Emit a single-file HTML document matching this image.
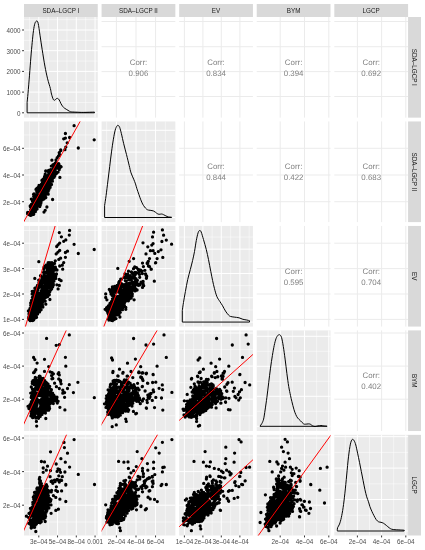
<!DOCTYPE html>
<html><head><meta charset="utf-8"><style>
html,body{margin:0;padding:0;background:#fff;}
svg{display:block;}
.cr{text-rendering:geometricPrecision;}
.st{font-family:"Liberation Sans",Arial,sans-serif;font-size:63px;fill:#1A1A1A;}
.ax{font-family:"Liberation Sans",Arial,sans-serif;font-size:63px;fill:#4D4D4D;}
.cr{font-family:"Liberation Sans",Arial,sans-serif;font-size:79px;fill:#808080;}
</style></head><body>
<svg width="425" height="550" viewBox="0 0 425 550">
<rect width="425" height="550" fill="#fff"/>
<rect x="24" y="4" width="73.76" height="13" fill="#D9D9D9"/>
<text transform="translate(60.88,12.80) scale(0.1)" class="st" text-anchor="middle">SDA–LGCP I</text>
<rect x="101.58" y="4" width="73.76" height="13" fill="#D9D9D9"/>
<text transform="translate(138.46,12.80) scale(0.1)" class="st" text-anchor="middle">SDA–LGCP II</text>
<rect x="179.16" y="4" width="73.76" height="13" fill="#D9D9D9"/>
<text transform="translate(216.04,12.80) scale(0.1)" class="st" text-anchor="middle">EV</text>
<rect x="256.74" y="4" width="73.76" height="13" fill="#D9D9D9"/>
<text transform="translate(293.62,12.80) scale(0.1)" class="st" text-anchor="middle">BYM</text>
<rect x="334.32" y="4" width="73.76" height="13" fill="#D9D9D9"/>
<text transform="translate(371.20,12.80) scale(0.1)" class="st" text-anchor="middle">LGCP</text>
<rect x="408.08" y="17" width="12.92" height="100.64" fill="#D9D9D9"/>
<text transform="translate(412.24,67.32) rotate(90) scale(0.1)" class="st" text-anchor="middle">SDA–LGCP I</text>
<rect x="408.08" y="121.46" width="12.92" height="100.64" fill="#D9D9D9"/>
<text transform="translate(412.24,171.79) rotate(90) scale(0.1)" class="st" text-anchor="middle">SDA–LGCP II</text>
<rect x="408.08" y="225.93" width="12.92" height="100.64" fill="#D9D9D9"/>
<text transform="translate(412.24,276.25) rotate(90) scale(0.1)" class="st" text-anchor="middle">EV</text>
<rect x="408.08" y="330.39" width="12.92" height="100.64" fill="#D9D9D9"/>
<text transform="translate(412.24,380.71) rotate(90) scale(0.1)" class="st" text-anchor="middle">BYM</text>
<rect x="408.08" y="434.86" width="12.92" height="100.64" fill="#D9D9D9"/>
<text transform="translate(412.24,485.18) rotate(90) scale(0.1)" class="st" text-anchor="middle">LGCP</text>
<g>
<rect x="24" y="17" width="73.76" height="100.64" fill="#EBEBEB"/>
<line x1="29.42" y1="17" x2="29.42" y2="117.64" stroke="#fff" stroke-width="0.49"/>
<line x1="48.17" y1="17" x2="48.17" y2="117.64" stroke="#fff" stroke-width="0.49"/>
<line x1="66.92" y1="17" x2="66.92" y2="117.64" stroke="#fff" stroke-width="0.49"/>
<line x1="85.67" y1="17" x2="85.67" y2="117.64" stroke="#fff" stroke-width="0.49"/>
<line x1="24" y1="19.65" x2="97.76" y2="19.65" stroke="#fff" stroke-width="0.49"/>
<line x1="24" y1="40.35" x2="97.76" y2="40.35" stroke="#fff" stroke-width="0.49"/>
<line x1="24" y1="61.05" x2="97.76" y2="61.05" stroke="#fff" stroke-width="0.49"/>
<line x1="24" y1="81.75" x2="97.76" y2="81.75" stroke="#fff" stroke-width="0.49"/>
<line x1="24" y1="102.45" x2="97.76" y2="102.45" stroke="#fff" stroke-width="0.49"/>
<line x1="38.8" y1="17" x2="38.8" y2="117.64" stroke="#fff" stroke-width="0.99"/>
<line x1="57.55" y1="17" x2="57.55" y2="117.64" stroke="#fff" stroke-width="0.99"/>
<line x1="76.3" y1="17" x2="76.3" y2="117.64" stroke="#fff" stroke-width="0.99"/>
<line x1="95.05" y1="17" x2="95.05" y2="117.64" stroke="#fff" stroke-width="0.99"/>
<line x1="24" y1="112.8" x2="97.76" y2="112.8" stroke="#fff" stroke-width="0.99"/>
<line x1="24" y1="92.1" x2="97.76" y2="92.1" stroke="#fff" stroke-width="0.99"/>
<line x1="24" y1="71.4" x2="97.76" y2="71.4" stroke="#fff" stroke-width="0.99"/>
<line x1="24" y1="50.7" x2="97.76" y2="50.7" stroke="#fff" stroke-width="0.99"/>
<line x1="24" y1="30" x2="97.76" y2="30" stroke="#fff" stroke-width="0.99"/>
<!--CONTENT_0_0-->
<path d="M27.10,112.80 L27.10,102.50 C27.25,100.98 27.60,97.95 28.00,93.40 C28.40,88.85 29.02,81.27 29.50,75.20 C29.98,69.13 30.45,62.45 30.90,57.00 C31.35,51.55 31.77,46.90 32.20,42.50 C32.63,38.10 33.05,33.78 33.50,30.60 C33.95,27.42 34.37,25.00 34.90,23.40 C35.43,21.80 36.15,21.00 36.70,21.00 C37.25,21.00 37.65,21.03 38.20,23.40 C38.75,25.77 39.33,30.82 40.00,35.20 C40.67,39.58 41.38,44.55 42.20,49.70 C43.02,54.85 44.00,61.25 44.90,66.10 C45.80,70.95 46.68,75.05 47.60,78.80 C48.52,82.55 49.75,86.05 50.40,88.60 C51.05,91.15 51.02,92.30 51.50,94.10 C51.98,95.90 52.75,98.38 53.30,99.40 C53.85,100.42 54.32,100.30 54.80,100.20 C55.28,100.10 55.73,99.10 56.20,98.80 C56.67,98.50 57.10,98.22 57.60,98.40 C58.10,98.58 58.65,99.05 59.20,99.90 C59.75,100.75 60.32,102.42 60.90,103.50 C61.48,104.58 62.10,105.62 62.70,106.40 C63.30,107.18 63.82,107.67 64.50,108.20 C65.18,108.73 66.02,109.12 66.80,109.60 C67.58,110.08 68.42,110.72 69.20,111.10 C69.98,111.48 70.13,111.72 71.50,111.90 C72.87,112.08 75.43,112.12 77.40,112.20 C79.37,112.28 80.45,112.42 83.30,112.40 C86.15,112.38 92.63,112.15 94.50,112.10 L94.50,112.80 Z" fill="none" stroke="#000" stroke-width="0.99" stroke-linejoin="round"/>
</g>
<g>
<line x1="116.4" y1="17" x2="116.4" y2="117.64" stroke="#EBEBEB" stroke-width="0.99"/>
<line x1="136" y1="17" x2="136" y2="117.64" stroke="#EBEBEB" stroke-width="0.99"/>
<line x1="155.55" y1="17" x2="155.55" y2="117.64" stroke="#EBEBEB" stroke-width="0.99"/>
<line x1="101.58" y1="21.5" x2="175.34" y2="21.5" stroke="#EBEBEB" stroke-width="0.99"/>
<line x1="101.58" y1="46.7" x2="175.34" y2="46.7" stroke="#EBEBEB" stroke-width="0.99"/>
<line x1="101.58" y1="71.6" x2="175.34" y2="71.6" stroke="#EBEBEB" stroke-width="0.99"/>
<line x1="101.58" y1="96.5" x2="175.34" y2="96.5" stroke="#EBEBEB" stroke-width="0.99"/>
<text transform="translate(138.46,64.72) scale(0.1)" class="cr" text-anchor="middle">Corr:</text>
<text transform="translate(138.46,75.92) scale(0.1)" class="cr" text-anchor="middle">0.906</text>
</g>
<g>
<line x1="184.4" y1="17" x2="184.4" y2="117.64" stroke="#EBEBEB" stroke-width="0.99"/>
<line x1="202.9" y1="17" x2="202.9" y2="117.64" stroke="#EBEBEB" stroke-width="0.99"/>
<line x1="221.3" y1="17" x2="221.3" y2="117.64" stroke="#EBEBEB" stroke-width="0.99"/>
<line x1="239.9" y1="17" x2="239.9" y2="117.64" stroke="#EBEBEB" stroke-width="0.99"/>
<line x1="179.16" y1="21.5" x2="252.92" y2="21.5" stroke="#EBEBEB" stroke-width="0.99"/>
<line x1="179.16" y1="46.7" x2="252.92" y2="46.7" stroke="#EBEBEB" stroke-width="0.99"/>
<line x1="179.16" y1="71.6" x2="252.92" y2="71.6" stroke="#EBEBEB" stroke-width="0.99"/>
<line x1="179.16" y1="96.5" x2="252.92" y2="96.5" stroke="#EBEBEB" stroke-width="0.99"/>
<text transform="translate(216.04,64.72) scale(0.1)" class="cr" text-anchor="middle">Corr:</text>
<text transform="translate(216.04,75.92) scale(0.1)" class="cr" text-anchor="middle">0.834</text>
</g>
<g>
<line x1="280.2" y1="17" x2="280.2" y2="117.64" stroke="#EBEBEB" stroke-width="0.99"/>
<line x1="304.5" y1="17" x2="304.5" y2="117.64" stroke="#EBEBEB" stroke-width="0.99"/>
<line x1="328.8" y1="17" x2="328.8" y2="117.64" stroke="#EBEBEB" stroke-width="0.99"/>
<line x1="256.74" y1="21.5" x2="330.5" y2="21.5" stroke="#EBEBEB" stroke-width="0.99"/>
<line x1="256.74" y1="46.7" x2="330.5" y2="46.7" stroke="#EBEBEB" stroke-width="0.99"/>
<line x1="256.74" y1="71.6" x2="330.5" y2="71.6" stroke="#EBEBEB" stroke-width="0.99"/>
<line x1="256.74" y1="96.5" x2="330.5" y2="96.5" stroke="#EBEBEB" stroke-width="0.99"/>
<text transform="translate(293.62,64.72) scale(0.1)" class="cr" text-anchor="middle">Corr:</text>
<text transform="translate(293.62,75.92) scale(0.1)" class="cr" text-anchor="middle">0.394</text>
</g>
<g>
<line x1="357.4" y1="17" x2="357.4" y2="117.64" stroke="#EBEBEB" stroke-width="0.99"/>
<line x1="381.6" y1="17" x2="381.6" y2="117.64" stroke="#EBEBEB" stroke-width="0.99"/>
<line x1="405.8" y1="17" x2="405.8" y2="117.64" stroke="#EBEBEB" stroke-width="0.99"/>
<line x1="334.32" y1="21.5" x2="408.08" y2="21.5" stroke="#EBEBEB" stroke-width="0.99"/>
<line x1="334.32" y1="46.7" x2="408.08" y2="46.7" stroke="#EBEBEB" stroke-width="0.99"/>
<line x1="334.32" y1="71.6" x2="408.08" y2="71.6" stroke="#EBEBEB" stroke-width="0.99"/>
<line x1="334.32" y1="96.5" x2="408.08" y2="96.5" stroke="#EBEBEB" stroke-width="0.99"/>
<text transform="translate(371.20,64.72) scale(0.1)" class="cr" text-anchor="middle">Corr:</text>
<text transform="translate(371.20,75.92) scale(0.1)" class="cr" text-anchor="middle">0.692</text>
</g>
<g>
<rect x="24" y="121.46" width="73.76" height="100.64" fill="#EBEBEB"/>
<line x1="29.42" y1="121.46" x2="29.42" y2="222.11" stroke="#fff" stroke-width="0.49"/>
<line x1="48.17" y1="121.46" x2="48.17" y2="222.11" stroke="#fff" stroke-width="0.49"/>
<line x1="66.92" y1="121.46" x2="66.92" y2="222.11" stroke="#fff" stroke-width="0.49"/>
<line x1="85.67" y1="121.46" x2="85.67" y2="222.11" stroke="#fff" stroke-width="0.49"/>
<line x1="24" y1="134.95" x2="97.76" y2="134.95" stroke="#fff" stroke-width="0.49"/>
<line x1="24" y1="161.65" x2="97.76" y2="161.65" stroke="#fff" stroke-width="0.49"/>
<line x1="24" y1="188.35" x2="97.76" y2="188.35" stroke="#fff" stroke-width="0.49"/>
<line x1="24" y1="215.05" x2="97.76" y2="215.05" stroke="#fff" stroke-width="0.49"/>
<line x1="38.8" y1="121.46" x2="38.8" y2="222.11" stroke="#fff" stroke-width="0.99"/>
<line x1="57.55" y1="121.46" x2="57.55" y2="222.11" stroke="#fff" stroke-width="0.99"/>
<line x1="76.3" y1="121.46" x2="76.3" y2="222.11" stroke="#fff" stroke-width="0.99"/>
<line x1="95.05" y1="121.46" x2="95.05" y2="222.11" stroke="#fff" stroke-width="0.99"/>
<line x1="24" y1="148.3" x2="97.76" y2="148.3" stroke="#fff" stroke-width="0.99"/>
<line x1="24" y1="175" x2="97.76" y2="175" stroke="#fff" stroke-width="0.99"/>
<line x1="24" y1="201.7" x2="97.76" y2="201.7" stroke="#fff" stroke-width="0.99"/>
<clipPath id="c10"><rect x="24.00" y="121.46" width="73.76" height="100.64"/></clipPath><g clip-path="url(#c10)"><path d="M74.1 125.7h0M65.4 133.5h0M63.7 138.8h0M65.4 138.1h0M69.6 137.5h0M94.2 139.8h0M78.3 148.0h0M67.2 142.8h0M65.8 147.1h0M64.9 149.7h0M51.9 160.2h0M60.6 166.3h0M52.6 199.5h0M46.9 207.0h0M45.2 210.3h0M44.0 212.1h0M59.9 177.4h0M58.1 172.1h0M61.1 166.8h0M36.7 209.0h0M35.1 210.0h0M38.5 204.0h0M55.2 165.2h0M27.6 212.6h0M51.1 180.7h0M40.3 203.4h0M40.8 203.4h0M41.2 186.8h0M41.9 192.1h0M56.0 159.9h0M57.5 168.1h0M44.0 180.1h0M41.1 189.6h0M44.7 196.1h0M41.8 195.4h0M51.9 172.4h0M35.2 208.4h0M45.7 181.6h0M44.4 189.8h0M45.5 187.4h0M35.8 207.7h0M51.3 166.1h0M33.9 195.3h0M46.4 180.0h0M34.2 199.0h0M30.4 212.7h0M41.8 190.1h0M41.0 202.3h0M49.1 183.6h0M32.6 211.6h0M29.5 212.4h0M46.7 190.4h0M55.4 166.8h0M34.0 193.8h0M33.5 206.2h0M27.7 212.5h0M36.4 188.9h0M47.2 188.1h0M44.3 193.6h0M35.7 196.7h0M38.8 188.8h0M45.4 184.7h0M38.1 187.3h0M60.8 150.6h0M42.0 186.6h0M46.7 184.4h0M44.2 178.0h0M54.8 175.8h0M53.0 174.8h0M48.2 186.1h0M39.6 203.4h0M35.7 197.5h0M41.9 180.4h0M56.4 173.4h0M45.2 190.9h0M42.9 179.5h0M30.7 209.6h0M52.7 178.0h0M44.3 180.4h0M44.3 180.2h0M35.3 205.6h0M31.7 211.7h0M48.2 194.2h0M43.1 198.4h0M50.1 182.4h0M31.3 199.1h0M49.0 170.6h0M41.4 199.6h0M39.8 206.6h0M46.4 190.3h0M32.2 204.2h0M43.7 181.6h0M59.8 167.7h0M45.3 188.0h0M48.7 187.3h0M39.2 189.0h0M44.0 181.6h0M42.8 182.9h0M45.2 174.2h0M59.3 153.1h0M48.7 170.3h0M43.3 186.1h0M48.1 178.6h0M33.5 194.4h0M53.5 176.4h0M45.7 171.0h0M36.3 194.4h0M45.9 176.7h0M50.1 187.4h0M59.4 154.7h0M49.0 180.7h0M46.7 193.2h0M54.6 168.9h0M30.6 215.4h0M57.3 167.5h0M47.1 189.6h0M54.5 167.2h0M46.4 181.1h0M33.0 202.8h0M35.4 211.1h0M32.9 209.2h0M53.5 165.2h0M36.2 201.0h0M40.0 196.7h0M41.2 198.9h0M33.7 196.5h0M43.1 196.0h0M36.6 190.2h0M30.4 206.8h0M29.3 213.6h0M58.6 168.0h0M49.9 179.4h0M58.0 167.0h0M31.4 204.3h0M55.3 171.2h0M43.3 181.2h0M34.4 211.7h0M60.7 149.9h0M39.1 205.8h0M41.1 191.0h0M44.6 176.5h0M36.8 197.0h0M38.6 190.2h0M31.0 205.5h0M53.6 170.3h0M49.1 181.5h0M36.7 206.1h0M42.7 195.0h0M47.6 187.6h0M41.1 187.8h0M47.2 177.7h0M32.5 201.3h0M37.8 190.1h0M44.1 184.4h0M41.5 184.1h0M40.4 200.7h0M38.3 199.7h0M51.9 176.0h0M45.6 184.3h0M45.1 181.3h0M50.6 180.9h0M33.3 211.0h0M46.6 193.3h0M41.7 190.2h0M44.5 180.9h0M46.1 194.0h0M37.6 198.9h0M41.4 184.9h0M53.3 171.6h0M47.4 186.0h0M36.0 189.4h0M43.3 193.9h0M40.3 205.1h0M45.9 184.8h0M51.4 170.9h0M41.3 200.0h0M53.1 171.7h0M36.3 189.5h0M43.5 199.2h0M40.6 187.1h0M34.0 199.9h0M43.6 195.6h0M54.9 175.1h0M37.3 200.0h0M36.8 191.7h0M51.3 177.2h0M46.5 187.4h0M42.2 199.9h0M40.6 191.1h0M37.1 209.1h0M37.1 199.3h0M56.1 173.7h0M32.7 210.8h0M44.9 184.0h0M51.6 180.2h0M31.0 211.7h0M48.5 190.5h0M34.6 196.2h0M27.6 213.7h0M39.6 195.4h0M49.4 172.3h0M52.6 178.5h0M40.2 201.5h0M43.5 180.5h0M37.2 201.5h0M39.0 185.4h0M54.0 171.2h0M51.3 181.3h0M30.8 211.3h0M45.0 196.1h0M51.5 179.6h0M57.2 157.7h0M52.9 169.2h0M34.4 200.1h0M43.2 198.4h0M48.8 174.8h0M45.2 185.0h0M55.0 166.5h0M55.6 171.8h0M36.1 204.9h0M38.0 196.3h0M45.3 175.3h0M41.2 194.1h0M51.5 179.5h0M42.7 190.3h0M36.6 189.1h0M46.4 192.4h0M39.4 188.3h0M37.2 194.0h0M31.3 205.8h0M44.6 179.8h0M41.7 197.9h0M34.6 200.4h0M53.5 168.5h0M35.8 200.7h0M43.4 196.6h0M57.2 165.9h0M46.1 193.3h0M44.4 183.9h0M39.5 202.6h0M37.2 198.5h0M50.6 169.7h0M51.4 174.5h0M45.4 195.0h0M33.6 211.3h0M48.8 173.2h0M43.5 192.3h0M48.7 180.2h0M35.6 196.4h0M58.9 164.1h0M58.7 163.7h0M43.2 179.5h0M44.5 190.7h0M43.2 181.1h0M44.5 188.3h0M45.0 190.5h0M55.9 162.8h0M47.2 191.2h0M53.2 164.7h0M52.4 181.2h0M31.1 210.0h0M57.0 164.1h0M36.9 206.6h0M52.8 164.8h0M49.5 176.3h0M53.9 167.9h0M46.6 182.1h0M43.7 191.7h0M37.0 201.8h0M59.2 152.6h0M43.2 198.9h0M33.8 199.8h0M38.2 192.3h0M37.0 188.4h0M55.2 163.1h0M49.0 179.6h0M41.5 192.5h0M40.0 200.2h0M31.8 212.7h0M31.7 205.0h0M49.6 176.8h0M31.3 211.5h0M48.9 189.4h0M35.3 211.7h0M38.2 202.6h0M41.8 188.2h0M37.9 199.4h0M47.0 171.1h0M39.7 188.6h0M42.9 193.0h0M33.3 205.2h0M43.1 181.1h0M55.6 168.5h0M46.4 189.3h0M54.9 168.4h0M45.3 193.4h0M41.6 186.6h0M42.0 186.0h0M55.4 165.4h0M42.3 183.1h0M46.9 176.9h0M52.4 178.3h0M30.2 205.9h0M45.1 198.1h0M45.7 191.7h0M33.7 214.3h0M43.4 187.9h0M32.0 212.5h0M50.2 171.1h0M32.7 214.6h0M40.7 188.3h0M39.6 195.3h0M30.2 206.0h0M36.2 189.1h0M35.5 204.4h0M51.5 184.5h0M54.1 177.3h0M42.5 185.3h0M44.8 176.5h0M45.3 193.6h0M37.4 201.6h0M50.2 183.9h0M29.5 213.0h0M37.7 198.5h0M54.6 171.9h0M46.1 186.8h0M49.6 180.5h0M29.7 213.8h0M34.7 211.2h0M48.3 175.1h0M45.8 178.8h0M42.8 192.5h0M54.2 175.3h0M33.8 196.4h0M48.1 191.4h0M59.3 169.6h0M45.8 197.5h0M46.2 187.7h0M43.4 185.5h0M31.9 207.6h0M45.6 182.0h0M41.3 195.8h0M48.3 187.8h0M37.6 206.3h0M50.1 187.0h0M58.6 155.8h0M54.5 172.3h0M29.0 214.6h0M34.9 201.4h0M45.6 185.5h0M30.4 214.0h0M39.8 196.5h0M55.6 165.3h0M40.0 198.6h0" stroke="#000" stroke-width="3.3" stroke-linecap="round" fill="none"/><line x1="-54.95" y1="361.90" x2="170.05" y2="-38.60" stroke="#FF0000" stroke-width="0.99"/></g>
</g>
<g>
<rect x="101.58" y="121.46" width="73.76" height="100.64" fill="#EBEBEB"/>
<line x1="106.61" y1="121.46" x2="106.61" y2="222.11" stroke="#fff" stroke-width="0.49"/>
<line x1="126.19" y1="121.46" x2="126.19" y2="222.11" stroke="#fff" stroke-width="0.49"/>
<line x1="145.76" y1="121.46" x2="145.76" y2="222.11" stroke="#fff" stroke-width="0.49"/>
<line x1="165.34" y1="121.46" x2="165.34" y2="222.11" stroke="#fff" stroke-width="0.49"/>
<line x1="101.58" y1="141.2" x2="175.34" y2="141.2" stroke="#fff" stroke-width="0.49"/>
<line x1="101.58" y1="163" x2="175.34" y2="163" stroke="#fff" stroke-width="0.49"/>
<line x1="101.58" y1="184.8" x2="175.34" y2="184.8" stroke="#fff" stroke-width="0.49"/>
<line x1="101.58" y1="206.6" x2="175.34" y2="206.6" stroke="#fff" stroke-width="0.49"/>
<line x1="116.4" y1="121.46" x2="116.4" y2="222.11" stroke="#fff" stroke-width="0.99"/>
<line x1="136" y1="121.46" x2="136" y2="222.11" stroke="#fff" stroke-width="0.99"/>
<line x1="155.55" y1="121.46" x2="155.55" y2="222.11" stroke="#fff" stroke-width="0.99"/>
<line x1="101.58" y1="217.5" x2="175.34" y2="217.5" stroke="#fff" stroke-width="0.99"/>
<line x1="101.58" y1="195.7" x2="175.34" y2="195.7" stroke="#fff" stroke-width="0.99"/>
<line x1="101.58" y1="173.9" x2="175.34" y2="173.9" stroke="#fff" stroke-width="0.99"/>
<line x1="101.58" y1="152.1" x2="175.34" y2="152.1" stroke="#fff" stroke-width="0.99"/>
<line x1="101.58" y1="130.3" x2="175.34" y2="130.3" stroke="#fff" stroke-width="0.99"/>
<!--CONTENT_1_1-->
<path d="M104.60,217.50 L104.60,205.50 C104.85,203.83 105.55,199.58 106.10,195.50 C106.65,191.42 107.30,185.83 107.90,181.00 C108.50,176.17 109.10,171.35 109.70,166.50 C110.30,161.65 110.88,156.45 111.50,151.90 C112.12,147.35 112.78,142.83 113.40,139.20 C114.02,135.57 114.60,132.32 115.20,130.10 C115.80,127.88 116.48,126.67 117.00,125.90 C117.52,125.13 117.85,125.25 118.30,125.50 C118.75,125.75 119.18,126.03 119.70,127.40 C120.22,128.77 120.73,130.98 121.40,133.70 C122.07,136.42 122.85,140.22 123.70,143.70 C124.55,147.18 125.58,150.97 126.50,154.60 C127.42,158.23 128.45,162.47 129.20,165.50 C129.95,168.53 130.25,170.52 131.00,172.80 C131.75,175.08 132.95,177.35 133.70,179.20 C134.45,181.05 134.97,182.32 135.50,183.90 C136.03,185.48 136.33,186.93 136.90,188.70 C137.47,190.47 138.25,192.65 138.90,194.50 C139.55,196.35 140.17,198.20 140.80,199.80 C141.43,201.40 142.07,202.90 142.70,204.10 C143.33,205.30 143.95,206.15 144.60,207.00 C145.25,207.85 145.95,208.68 146.60,209.20 C147.25,209.72 147.78,209.90 148.50,210.10 C149.22,210.30 150.10,210.27 150.90,210.40 C151.70,210.53 152.57,210.62 153.30,210.90 C154.03,211.18 154.65,211.65 155.30,212.10 C155.95,212.55 156.57,213.23 157.20,213.60 C157.83,213.97 158.38,214.23 159.10,214.30 C159.82,214.37 160.78,213.95 161.50,214.00 C162.22,214.05 162.67,214.28 163.40,214.60 C164.13,214.92 165.08,215.52 165.90,215.90 C166.72,216.28 167.35,216.68 168.30,216.90 C169.25,217.12 171.05,217.15 171.60,217.20 L171.60,217.50 Z" fill="none" stroke="#000" stroke-width="0.99" stroke-linejoin="round"/>
</g>
<g>
<line x1="184.4" y1="121.46" x2="184.4" y2="222.11" stroke="#EBEBEB" stroke-width="0.99"/>
<line x1="202.9" y1="121.46" x2="202.9" y2="222.11" stroke="#EBEBEB" stroke-width="0.99"/>
<line x1="221.3" y1="121.46" x2="221.3" y2="222.11" stroke="#EBEBEB" stroke-width="0.99"/>
<line x1="239.9" y1="121.46" x2="239.9" y2="222.11" stroke="#EBEBEB" stroke-width="0.99"/>
<line x1="179.16" y1="148.3" x2="252.92" y2="148.3" stroke="#EBEBEB" stroke-width="0.99"/>
<line x1="179.16" y1="175" x2="252.92" y2="175" stroke="#EBEBEB" stroke-width="0.99"/>
<line x1="179.16" y1="201.7" x2="252.92" y2="201.7" stroke="#EBEBEB" stroke-width="0.99"/>
<text transform="translate(216.04,169.19) scale(0.1)" class="cr" text-anchor="middle">Corr:</text>
<text transform="translate(216.04,180.39) scale(0.1)" class="cr" text-anchor="middle">0.844</text>
</g>
<g>
<line x1="280.2" y1="121.46" x2="280.2" y2="222.11" stroke="#EBEBEB" stroke-width="0.99"/>
<line x1="304.5" y1="121.46" x2="304.5" y2="222.11" stroke="#EBEBEB" stroke-width="0.99"/>
<line x1="328.8" y1="121.46" x2="328.8" y2="222.11" stroke="#EBEBEB" stroke-width="0.99"/>
<line x1="256.74" y1="148.3" x2="330.5" y2="148.3" stroke="#EBEBEB" stroke-width="0.99"/>
<line x1="256.74" y1="175" x2="330.5" y2="175" stroke="#EBEBEB" stroke-width="0.99"/>
<line x1="256.74" y1="201.7" x2="330.5" y2="201.7" stroke="#EBEBEB" stroke-width="0.99"/>
<text transform="translate(293.62,169.19) scale(0.1)" class="cr" text-anchor="middle">Corr:</text>
<text transform="translate(293.62,180.39) scale(0.1)" class="cr" text-anchor="middle">0.422</text>
</g>
<g>
<line x1="357.4" y1="121.46" x2="357.4" y2="222.11" stroke="#EBEBEB" stroke-width="0.99"/>
<line x1="381.6" y1="121.46" x2="381.6" y2="222.11" stroke="#EBEBEB" stroke-width="0.99"/>
<line x1="405.8" y1="121.46" x2="405.8" y2="222.11" stroke="#EBEBEB" stroke-width="0.99"/>
<line x1="334.32" y1="148.3" x2="408.08" y2="148.3" stroke="#EBEBEB" stroke-width="0.99"/>
<line x1="334.32" y1="175" x2="408.08" y2="175" stroke="#EBEBEB" stroke-width="0.99"/>
<line x1="334.32" y1="201.7" x2="408.08" y2="201.7" stroke="#EBEBEB" stroke-width="0.99"/>
<text transform="translate(371.20,169.19) scale(0.1)" class="cr" text-anchor="middle">Corr:</text>
<text transform="translate(371.20,180.39) scale(0.1)" class="cr" text-anchor="middle">0.683</text>
</g>
<g>
<rect x="24" y="225.93" width="73.76" height="100.64" fill="#EBEBEB"/>
<line x1="29.42" y1="225.93" x2="29.42" y2="326.57" stroke="#fff" stroke-width="0.49"/>
<line x1="48.17" y1="225.93" x2="48.17" y2="326.57" stroke="#fff" stroke-width="0.49"/>
<line x1="66.92" y1="225.93" x2="66.92" y2="326.57" stroke="#fff" stroke-width="0.49"/>
<line x1="85.67" y1="225.93" x2="85.67" y2="326.57" stroke="#fff" stroke-width="0.49"/>
<line x1="24" y1="230.5" x2="97.76" y2="230.5" stroke="#fff" stroke-width="0.49"/>
<line x1="24" y1="255.9" x2="97.76" y2="255.9" stroke="#fff" stroke-width="0.49"/>
<line x1="24" y1="281.3" x2="97.76" y2="281.3" stroke="#fff" stroke-width="0.49"/>
<line x1="24" y1="306.7" x2="97.76" y2="306.7" stroke="#fff" stroke-width="0.49"/>
<line x1="38.8" y1="225.93" x2="38.8" y2="326.57" stroke="#fff" stroke-width="0.99"/>
<line x1="57.55" y1="225.93" x2="57.55" y2="326.57" stroke="#fff" stroke-width="0.99"/>
<line x1="76.3" y1="225.93" x2="76.3" y2="326.57" stroke="#fff" stroke-width="0.99"/>
<line x1="95.05" y1="225.93" x2="95.05" y2="326.57" stroke="#fff" stroke-width="0.99"/>
<line x1="24" y1="243.2" x2="97.76" y2="243.2" stroke="#fff" stroke-width="0.99"/>
<line x1="24" y1="268.6" x2="97.76" y2="268.6" stroke="#fff" stroke-width="0.99"/>
<line x1="24" y1="294" x2="97.76" y2="294" stroke="#fff" stroke-width="0.99"/>
<line x1="24" y1="319.4" x2="97.76" y2="319.4" stroke="#fff" stroke-width="0.99"/>
<clipPath id="c20"><rect x="24.00" y="225.93" width="73.76" height="100.64"/></clipPath><g clip-path="url(#c20)"><path d="M69.6 230.4h0M59.3 232.6h0M69.3 235.1h0M61.4 236.8h0M65.8 239.9h0M63.7 241.3h0M59.7 243.1h0M58.0 244.8h0M56.7 246.5h0M74.1 244.3h0M94.2 249.5h0M59.7 250.4h0M58.0 252.1h0M56.2 253.9h0M67.5 251.2h0M65.4 252.5h0M78.3 253.5h0M65.4 257.3h0M60.6 258.2h0M58.8 259.4h0M55.3 260.8h0M63.7 262.6h0M62.3 265.2h0M59.7 266.0h0M38.8 261.7h0M51.9 262.6h0M62.7 269.2h0M54.5 263.4h0M34.8 278.4h0M55.8 278.4h0M59.3 279.5h0M61.1 280.7h0M56.9 284.8h0M59.3 285.4h0M58.1 288.9h0M49.3 294.8h0M49.9 299.5h0M45.8 304.2h0M32.2 291.3h0M57.0 270.0h0M56.5 274.0h0M49.4 268.6h0M47.5 295.8h0M54.5 274.9h0M37.8 308.8h0M51.7 267.6h0M50.0 278.0h0M34.1 317.5h0M34.1 294.1h0M38.5 288.1h0M49.3 284.1h0M46.2 287.5h0M33.1 317.5h0M37.6 301.8h0M47.6 267.2h0M35.2 314.5h0M35.8 314.3h0M42.7 279.4h0M36.6 317.3h0M52.1 268.0h0M52.1 285.6h0M46.9 292.5h0M38.4 301.7h0M46.2 286.5h0M51.4 273.3h0M50.8 276.4h0M34.0 308.8h0M50.9 271.2h0M47.3 270.8h0M45.7 290.6h0M47.6 264.6h0M48.6 268.9h0M47.6 291.1h0M53.2 267.3h0M42.7 280.1h0M31.5 320.1h0M38.0 285.1h0M50.2 263.1h0M34.3 299.1h0M44.0 274.6h0M28.9 316.7h0M51.0 288.7h0M37.1 305.1h0M53.4 279.4h0M35.2 293.9h0M51.0 285.6h0M44.0 295.8h0M48.9 287.6h0M41.4 295.1h0M47.5 267.4h0M37.4 285.4h0M32.2 304.9h0M32.5 311.3h0M44.1 295.9h0M31.5 300.4h0M31.2 314.0h0M53.2 283.4h0M46.6 295.3h0M47.9 283.8h0M42.1 290.1h0M45.7 294.8h0M53.8 276.7h0M52.8 273.5h0M50.2 287.7h0M48.6 285.3h0M49.9 281.8h0M33.8 291.2h0M41.5 292.5h0M41.2 301.8h0M51.7 280.4h0M39.7 287.0h0M28.5 318.3h0M47.2 277.5h0M35.9 312.6h0M47.2 286.2h0M31.9 302.8h0M47.3 281.8h0M48.5 275.0h0M34.7 297.6h0M42.8 279.6h0M29.7 314.8h0M54.4 276.5h0M44.4 286.8h0M37.0 306.8h0M42.9 302.2h0M53.3 267.8h0M30.9 307.2h0M55.4 267.2h0M49.1 274.8h0M35.2 295.4h0M46.3 273.1h0M51.4 285.6h0M49.6 291.8h0M49.7 284.5h0M42.1 277.3h0M42.9 295.9h0M30.4 310.8h0M33.8 312.3h0M45.7 267.2h0M34.8 315.2h0M31.8 315.9h0M35.7 313.7h0M31.5 313.2h0M45.2 276.4h0M45.5 276.2h0M43.9 291.7h0M30.7 305.3h0M51.2 266.1h0M40.7 299.1h0M41.7 300.7h0M44.6 289.4h0M49.0 277.5h0M52.8 269.3h0M35.0 302.2h0M49.7 282.7h0M44.3 275.7h0M52.6 272.0h0M30.9 307.2h0M33.4 313.9h0M33.2 312.6h0M39.5 293.9h0M54.6 267.5h0M41.0 298.8h0M36.0 316.5h0M49.7 292.1h0M46.8 291.6h0M46.0 282.9h0M46.4 277.1h0M55.8 276.1h0M45.7 288.9h0M37.9 294.1h0M40.4 307.7h0M28.4 310.9h0M55.6 269.1h0M33.7 309.3h0M51.1 268.4h0M32.4 294.1h0M41.1 292.1h0M46.6 273.1h0M49.3 263.3h0M52.8 278.6h0M41.4 294.4h0M50.8 276.2h0M46.1 272.2h0M50.4 271.1h0M49.0 283.4h0M44.1 272.3h0M34.9 311.1h0M41.9 291.8h0M42.0 294.6h0M50.3 272.7h0M33.3 318.7h0M35.1 299.4h0M34.6 316.5h0M48.6 273.5h0M33.3 298.4h0M33.6 308.2h0M30.6 311.6h0M51.1 284.4h0M49.1 281.4h0M46.0 276.4h0M50.3 273.6h0M37.9 295.1h0M36.4 301.2h0M50.3 270.3h0M37.5 298.5h0M42.6 290.1h0M44.7 286.1h0M51.5 263.0h0M49.1 269.9h0M36.3 308.0h0M47.5 283.5h0M51.7 285.7h0M44.0 281.7h0M40.7 306.7h0M42.4 290.5h0M43.0 300.4h0M54.2 270.3h0M46.6 281.1h0M41.7 300.0h0M38.4 293.8h0M45.4 284.1h0M50.9 289.7h0M34.9 316.0h0M54.5 268.6h0M37.7 294.5h0M40.7 286.9h0M35.3 299.0h0M49.7 268.7h0M43.6 272.4h0M34.9 288.2h0M33.3 304.5h0M42.4 304.9h0M35.4 315.7h0M53.4 270.8h0M37.8 286.4h0M44.4 294.4h0M44.5 278.4h0M42.2 294.5h0M48.9 265.5h0M48.0 265.0h0M50.7 288.4h0M51.8 286.7h0M43.4 278.2h0M36.6 308.3h0M52.3 270.3h0M35.2 317.9h0M48.9 265.4h0M44.2 300.2h0M42.4 279.3h0M50.0 268.9h0M36.2 309.2h0M48.1 279.3h0M45.8 292.0h0M52.5 275.5h0M42.3 298.4h0M35.7 291.3h0M42.9 307.0h0M49.0 281.0h0M30.0 308.5h0M54.6 270.0h0M33.8 294.9h0M41.2 291.0h0M40.2 300.5h0M32.7 320.6h0M47.8 278.1h0M54.5 274.5h0M36.6 311.4h0M45.4 295.9h0M35.1 307.0h0M35.9 290.9h0M40.5 275.7h0M53.4 274.0h0M32.2 316.9h0M36.8 301.7h0M43.2 297.1h0M35.2 301.2h0M39.1 293.3h0M40.3 284.0h0M45.8 289.0h0M42.6 293.5h0M53.4 284.9h0M32.4 317.3h0M36.1 314.2h0M46.2 284.3h0M38.7 280.2h0M43.1 289.2h0M49.1 267.9h0M34.3 296.3h0M42.4 282.6h0M44.4 272.3h0M41.5 281.5h0M36.3 316.9h0M42.3 284.0h0M46.8 294.3h0M52.7 268.3h0M49.8 266.3h0M39.3 307.5h0M35.8 290.1h0M41.5 283.6h0M30.6 315.1h0M40.7 296.7h0M44.9 266.5h0M34.8 316.3h0M50.8 281.7h0M33.5 318.0h0M47.7 296.5h0M45.4 295.6h0M32.6 317.1h0M35.1 301.7h0M36.2 290.4h0M31.6 304.5h0M53.7 274.7h0M42.3 298.5h0M46.1 285.9h0M39.5 311.9h0M35.1 290.6h0M34.8 291.0h0M36.7 294.9h0M49.6 276.1h0M35.3 312.2h0M52.5 266.8h0M52.1 285.2h0M30.4 316.4h0M53.1 276.7h0M44.1 300.0h0M30.7 302.9h0M46.0 276.9h0M41.5 281.0h0M41.5 301.0h0M49.8 279.4h0M39.3 300.1h0M52.4 270.7h0M51.5 268.2h0M35.2 309.7h0M55.0 267.5h0M49.2 286.7h0M38.2 304.4h0M53.1 269.2h0M36.6 287.4h0M48.2 290.9h0M42.9 276.7h0M29.2 319.6h0M47.2 285.3h0M34.2 315.4h0M51.9 265.8h0M39.4 303.8h0M34.3 298.0h0M35.9 295.9h0M43.7 286.9h0M36.1 306.9h0M30.2 320.7h0M42.0 286.9h0M45.9 279.4h0M49.1 275.3h0M31.4 318.9h0M50.1 290.7h0M32.1 294.1h0M54.0 281.1h0M44.1 267.2h0M46.0 283.0h0M32.2 308.6h0M30.9 313.4h0M30.7 313.8h0M33.7 316.2h0M52.7 286.8h0M38.3 311.6h0M36.3 300.5h0M36.2 289.8h0M34.3 297.6h0M38.4 309.9h0M44.7 289.5h0M42.0 278.5h0M41.0 296.9h0M31.4 305.6h0M45.1 296.9h0M29.6 309.8h0M51.6 277.5h0M39.0 282.4h0M49.2 265.0h0M49.1 268.7h0M47.1 269.3h0M51.5 285.0h0M29.0 314.0h0M33.7 319.8h0M50.8 280.8h0M48.2 262.7h0M37.6 301.9h0M34.6 305.0h0M32.5 304.8h0M34.9 311.1h0M35.9 292.8h0M30.5 320.5h0M43.8 291.0h0M43.7 268.8h0M42.5 291.3h0M37.8 289.9h0M45.0 266.8h0M50.9 276.5h0M34.3 293.3h0M40.5 300.8h0M52.1 285.5h0M35.6 303.4h0M47.8 281.7h0M36.4 290.2h0M40.3 284.8h0M49.4 273.9h0M44.5 288.3h0M36.5 314.5h0M38.5 297.4h0M43.4 276.3h0M30.9 309.7h0M53.8 277.9h0M47.4 265.1h0M45.2 294.7h0M51.2 271.4h0M40.4 296.7h0M33.0 293.4h0M42.6 283.5h0M49.1 266.5h0M33.2 311.0h0M33.9 301.9h0M50.0 268.8h0M34.8 311.1h0M29.8 320.0h0M37.4 288.3h0M47.2 293.9h0M35.3 302.4h0M31.3 315.7h0M31.2 318.8h0M34.9 310.7h0M53.7 269.0h0M53.7 281.0h0M46.6 288.9h0M44.1 267.6h0M32.6 308.0h0M31.7 315.5h0M43.4 288.8h0M32.4 297.4h0M30.8 320.1h0M37.6 305.1h0M51.6 263.9h0M46.0 290.1h0M40.5 295.0h0M38.9 304.6h0M45.4 287.2h0M38.6 306.5h0M33.1 320.3h0M37.6 291.9h0M54.4 274.5h0M40.0 281.9h0M31.9 309.2h0M47.2 290.3h0M50.9 288.5h0M46.1 265.2h0M47.7 271.8h0M40.5 299.6h0M35.9 303.0h0M33.3 317.0h0M49.5 274.6h0M49.9 262.7h0M51.0 280.8h0M37.3 301.0h0M39.5 297.9h0M44.0 275.9h0M53.9 270.4h0M53.7 273.7h0M41.6 302.9h0M48.9 281.4h0M46.4 292.6h0M33.9 292.1h0M51.0 281.2h0M39.7 297.4h0M30.7 318.1h0M47.1 267.5h0M35.2 308.7h0M47.5 280.9h0M38.0 302.1h0M40.3 286.6h0M44.9 292.6h0M32.6 315.6h0M31.0 320.4h0M55.0 269.6h0M49.3 285.6h0M44.6 298.0h0M51.4 280.4h0M47.3 265.8h0M39.0 305.4h0M41.1 309.8h0M41.6 284.4h0M44.3 279.7h0M36.6 292.7h0M37.9 292.8h0M35.6 294.0h0M35.0 304.5h0M45.5 265.8h0M35.4 314.0h0M50.3 287.2h0M34.6 294.1h0M48.2 292.5h0M46.1 283.1h0M39.5 283.7h0M52.0 281.2h0M49.0 274.3h0M42.5 287.2h0M41.9 289.7h0M44.2 279.3h0M44.0 291.9h0M38.8 302.4h0M43.1 298.5h0M44.3 287.2h0M41.2 300.3h0M36.9 310.6h0M38.3 306.1h0M43.9 271.6h0M31.4 320.0h0M33.9 302.3h0M41.6 280.2h0M48.0 287.7h0M51.1 272.5h0M34.2 302.0h0M31.0 312.7h0M41.6 293.1h0M45.7 294.8h0M36.1 316.5h0M45.9 297.3h0M50.1 282.1h0M28.8 317.2h0M52.5 277.0h0M36.2 312.8h0M35.7 305.2h0M32.8 315.6h0M40.1 304.2h0M41.9 286.3h0M51.7 288.8h0M36.2 303.8h0M37.6 314.0h0M41.0 300.0h0M37.6 308.8h0M39.1 300.5h0M45.2 301.1h0M49.0 278.8h0M34.6 294.4h0M46.7 280.7h0M49.6 291.4h0M52.7 266.0h0M48.9 281.3h0" stroke="#000" stroke-width="3.3" stroke-linecap="round" fill="none"/><line x1="-54.95" y1="598.80" x2="170.05" y2="-163.20" stroke="#FF0000" stroke-width="0.99"/></g>
</g>
<g>
<rect x="101.58" y="225.93" width="73.76" height="100.64" fill="#EBEBEB"/>
<line x1="106.61" y1="225.93" x2="106.61" y2="326.57" stroke="#fff" stroke-width="0.49"/>
<line x1="126.19" y1="225.93" x2="126.19" y2="326.57" stroke="#fff" stroke-width="0.49"/>
<line x1="145.76" y1="225.93" x2="145.76" y2="326.57" stroke="#fff" stroke-width="0.49"/>
<line x1="165.34" y1="225.93" x2="165.34" y2="326.57" stroke="#fff" stroke-width="0.49"/>
<line x1="101.58" y1="230.5" x2="175.34" y2="230.5" stroke="#fff" stroke-width="0.49"/>
<line x1="101.58" y1="255.9" x2="175.34" y2="255.9" stroke="#fff" stroke-width="0.49"/>
<line x1="101.58" y1="281.3" x2="175.34" y2="281.3" stroke="#fff" stroke-width="0.49"/>
<line x1="101.58" y1="306.7" x2="175.34" y2="306.7" stroke="#fff" stroke-width="0.49"/>
<line x1="116.4" y1="225.93" x2="116.4" y2="326.57" stroke="#fff" stroke-width="0.99"/>
<line x1="136" y1="225.93" x2="136" y2="326.57" stroke="#fff" stroke-width="0.99"/>
<line x1="155.55" y1="225.93" x2="155.55" y2="326.57" stroke="#fff" stroke-width="0.99"/>
<line x1="101.58" y1="243.2" x2="175.34" y2="243.2" stroke="#fff" stroke-width="0.99"/>
<line x1="101.58" y1="268.6" x2="175.34" y2="268.6" stroke="#fff" stroke-width="0.99"/>
<line x1="101.58" y1="294" x2="175.34" y2="294" stroke="#fff" stroke-width="0.99"/>
<line x1="101.58" y1="319.4" x2="175.34" y2="319.4" stroke="#fff" stroke-width="0.99"/>
<clipPath id="c21"><rect x="101.58" y="225.93" width="73.76" height="100.64"/></clipPath><g clip-path="url(#c21)"><path d="M162.4 229.9h0M153.6 232.2h0M163.6 235.2h0M152.5 236.9h0M166.3 240.1h0M161.9 241.5h0M171.6 244.2h0M143.0 242.8h0M153.1 243.6h0M151.8 245.1h0M147.8 246.8h0M161.0 249.8h0M158.3 251.6h0M150.4 250.7h0M153.1 250.7h0M154.8 253.4h0M146.0 253.9h0M162.8 257.4h0M157.1 258.6h0M149.5 258.6h0M148.3 261.3h0M147.2 263.4h0M149.0 266.2h0M155.7 262.7h0M151.3 269.2h0M117.8 268.4h0M133.6 258.6h0M129.2 261.3h0M142.5 263.1h0M143.4 266.6h0M105.7 293.9h0M105.7 297.5h0M106.9 299.8h0M105.1 309.3h0M125.8 307.5h0M125.8 309.3h0M119.9 317.0h0M145.9 275.0h0M146.5 278.0h0M143.0 282.1h0M143.0 285.0h0M134.1 299.8h0M132.3 293.9h0M147.7 263.2h0M149.5 266.7h0M155.5 262.9h0M147.2 262.9h0M148.4 266.1h0M151.1 269.3h0M144.9 270.3h0M145.5 273.8h0M146.7 276.2h0M146.4 278.3h0M154.3 281.2h0M143.1 281.5h0M143.1 283.9h0M143.7 285.7h0M142.5 287.4h0M122.1 284.1h0M109.8 311.7h0M112.0 292.5h0M118.2 309.1h0M107.9 313.0h0M112.6 300.5h0M118.4 284.3h0M113.0 309.8h0M111.4 307.7h0M126.5 277.7h0M115.7 301.8h0M132.3 277.6h0M114.7 306.3h0M114.2 303.1h0M117.9 297.3h0M116.5 304.6h0M119.4 308.4h0M130.0 285.9h0M118.4 309.7h0M120.7 305.1h0M108.0 307.9h0M114.1 302.5h0M114.1 295.1h0M135.1 290.9h0M113.8 298.3h0M117.7 301.1h0M115.0 292.2h0M108.9 320.1h0M125.6 284.1h0M139.3 271.7h0M129.8 297.9h0M137.9 269.1h0M109.8 304.3h0M117.9 311.7h0M110.8 307.3h0M108.2 312.6h0M107.8 308.1h0M114.4 317.2h0M117.9 314.4h0M122.7 304.1h0M135.9 289.1h0M127.7 274.2h0M134.7 267.0h0M123.7 290.5h0M117.1 302.4h0M135.0 272.5h0M111.9 302.7h0M113.0 320.1h0M114.3 300.0h0M130.7 291.1h0M119.5 298.5h0M112.3 320.6h0M118.2 300.5h0M114.1 317.0h0M139.7 277.3h0M114.3 308.2h0M121.0 287.3h0M119.6 289.4h0M111.3 293.7h0M115.7 291.3h0M111.8 303.6h0M111.5 290.3h0M113.0 302.4h0M112.6 303.7h0M132.0 293.5h0M133.5 268.7h0M125.0 273.8h0M129.3 298.9h0M133.2 273.7h0M115.6 312.5h0M121.2 290.0h0M109.7 308.8h0M114.6 297.5h0M109.2 316.1h0M120.2 306.1h0M133.0 282.4h0M134.9 282.9h0M118.8 300.8h0M127.4 296.2h0M118.9 310.3h0M115.4 300.3h0M119.9 306.4h0M112.8 306.3h0M122.5 309.7h0M114.6 306.4h0M136.8 284.7h0M111.0 310.1h0M142.4 273.6h0M132.8 282.8h0M114.0 310.4h0M111.0 314.0h0M123.1 291.0h0M112.5 298.8h0M135.3 281.4h0M108.8 314.0h0M138.3 269.8h0M123.3 302.2h0M120.3 285.5h0M136.7 280.6h0M136.0 278.6h0M112.4 288.5h0M127.4 298.0h0M114.4 310.0h0M106.5 310.3h0M128.1 283.7h0M120.0 304.4h0M125.5 296.8h0M114.1 296.7h0M128.4 300.8h0M114.8 288.2h0M121.1 293.8h0M122.9 293.7h0M119.7 292.9h0M125.9 280.9h0M115.9 300.3h0M123.9 297.1h0M125.6 276.7h0M127.1 298.2h0M133.0 285.7h0M112.5 302.2h0M124.4 297.4h0M107.7 310.0h0M114.3 308.0h0M112.6 311.8h0M120.1 309.4h0M118.9 309.5h0M117.3 304.2h0M109.2 309.3h0M119.4 281.5h0M121.6 301.1h0M117.1 314.9h0M114.6 286.5h0M123.1 299.8h0M123.3 290.4h0M116.0 318.6h0M122.1 286.8h0M119.7 310.1h0M123.0 296.4h0M122.2 286.9h0M124.3 293.3h0M137.1 283.2h0M119.2 286.6h0M119.7 312.1h0M116.4 311.4h0M133.5 276.2h0M117.0 303.4h0M133.6 285.5h0M112.7 320.7h0M122.0 305.4h0M114.0 311.2h0M115.4 311.8h0M118.7 310.0h0M122.5 296.6h0M119.2 310.9h0M108.2 312.2h0M116.2 308.9h0M107.3 311.3h0M116.7 315.0h0M117.4 302.1h0M110.4 291.5h0M109.8 313.7h0M119.0 314.3h0M111.3 313.2h0M130.9 291.4h0M111.8 309.8h0M139.6 285.0h0M126.4 291.4h0M138.1 272.8h0M110.5 316.3h0M112.3 315.5h0M120.6 290.1h0M129.2 288.3h0M120.8 308.7h0M132.0 282.2h0M111.7 319.6h0M109.4 319.1h0M129.4 296.2h0M119.8 305.4h0M120.0 296.9h0M114.2 310.2h0M128.0 276.6h0M120.0 295.6h0M127.7 284.2h0M113.4 303.4h0M118.9 301.2h0M118.4 286.9h0M124.3 277.5h0M128.8 279.7h0M108.5 314.1h0M133.5 288.1h0M112.4 287.0h0M122.9 299.9h0M126.1 275.4h0M113.1 314.2h0M110.0 303.3h0M111.0 294.0h0M121.4 303.3h0M121.1 293.2h0M131.4 272.0h0M136.5 273.1h0M110.8 310.7h0M117.0 287.2h0M107.2 307.4h0M128.4 293.0h0M129.1 291.0h0M108.8 308.5h0M134.6 284.4h0M113.3 307.2h0M113.6 289.2h0M121.9 305.7h0M133.4 287.8h0M118.5 289.0h0M114.2 302.9h0M114.9 299.6h0M130.2 283.7h0M119.8 298.6h0M123.3 294.5h0M118.2 291.0h0M108.6 318.9h0M137.1 290.0h0M128.5 271.2h0M121.4 291.3h0M115.0 308.4h0M139.9 270.3h0M107.3 307.7h0M116.3 305.9h0M120.3 312.3h0M116.9 299.9h0M122.3 285.5h0M116.1 306.2h0M112.4 291.1h0M121.5 279.2h0M116.3 303.9h0M131.8 290.4h0M113.0 292.3h0M132.4 286.3h0M121.2 309.3h0M136.5 267.6h0M112.1 291.6h0M131.5 292.7h0M132.2 295.9h0M118.6 304.5h0M112.0 306.9h0M113.7 299.4h0M117.1 312.0h0M127.0 299.4h0M111.6 319.4h0M138.5 285.4h0M114.9 311.3h0M116.5 299.1h0M137.4 284.3h0M116.7 313.6h0M115.4 287.8h0M128.6 295.6h0M127.1 294.9h0M119.5 308.7h0M123.7 294.0h0M125.3 289.9h0M124.9 294.1h0M109.9 310.3h0M121.4 291.3h0M109.5 317.0h0M129.5 286.3h0M125.3 286.1h0M108.3 306.0h0M114.8 297.3h0M133.5 282.8h0M126.6 290.7h0M114.6 310.8h0M116.1 292.4h0M119.4 285.3h0M111.7 307.8h0M116.9 298.2h0M118.3 302.5h0M113.2 293.5h0M112.5 308.7h0M117.6 308.4h0M114.4 319.3h0M114.2 310.2h0M122.9 299.6h0M118.6 286.6h0M131.7 288.6h0M108.6 313.5h0M139.7 284.4h0M111.9 316.6h0M139.5 269.8h0M111.6 320.4h0M120.5 286.8h0M110.2 305.3h0M142.0 271.1h0M115.0 296.2h0M112.2 318.9h0M119.1 296.5h0M126.1 281.4h0M131.2 298.1h0M126.1 296.5h0M127.2 287.2h0M121.5 286.8h0M120.7 279.2h0M115.9 314.5h0M109.7 308.2h0M130.4 291.1h0M124.2 300.1h0M114.6 306.9h0M118.8 310.9h0M116.3 311.3h0M134.6 277.5h0M123.8 284.9h0M130.3 275.7h0M112.0 317.3h0M126.4 291.8h0M124.8 295.7h0M124.4 277.1h0M122.3 299.5h0M132.1 288.8h0M119.9 284.9h0M141.0 282.7h0M114.3 306.9h0M108.4 314.2h0M111.9 309.0h0M137.4 280.3h0M106.6 307.6h0M112.9 311.2h0M116.0 289.2h0M117.1 300.0h0M116.1 299.5h0M115.0 299.4h0M116.6 301.2h0M130.6 277.8h0M119.1 285.0h0M123.7 300.0h0M117.9 296.5h0M121.4 300.2h0M135.8 289.6h0M108.8 312.6h0M120.8 292.2h0M135.1 281.4h0M125.8 298.0h0M114.1 291.2h0M117.4 309.6h0M141.0 282.2h0M121.8 307.3h0M127.1 277.7h0M109.3 315.4h0M108.5 312.2h0M117.0 287.0h0M122.0 292.1h0M115.5 304.6h0M116.3 301.5h0M117.5 306.0h0M126.4 296.1h0M124.4 305.6h0M135.0 287.7h0M114.2 299.6h0M134.1 288.5h0M120.1 304.1h0M111.9 293.0h0M121.0 305.4h0M130.3 296.5h0M132.0 278.4h0M121.6 301.7h0M109.3 289.4h0M127.8 288.2h0M122.7 307.8h0M132.2 282.0h0M129.8 283.1h0M130.9 283.2h0M109.8 309.2h0M113.0 313.7h0M127.1 286.1h0M128.1 297.0h0M113.3 316.0h0M115.7 302.3h0M133.0 290.3h0M127.1 291.7h0M116.4 298.1h0M128.5 299.2h0M109.9 317.9h0M118.8 282.3h0M131.7 295.6h0M121.5 294.7h0M125.9 301.1h0M124.9 287.7h0M132.8 273.8h0M123.2 302.2h0M117.1 285.3h0M131.9 272.5h0M116.1 302.5h0M128.9 294.4h0M140.7 270.2h0M136.8 281.6h0M120.1 300.8h0M123.0 287.1h0M115.5 314.4h0M117.0 310.0h0M121.6 305.7h0M112.2 295.4h0M135.3 274.5h0M120.6 291.6h0M123.3 289.8h0M121.9 300.6h0M134.8 285.8h0M113.3 310.8h0M112.3 305.9h0M119.5 301.9h0M115.3 301.8h0M131.3 280.0h0M139.5 274.4h0M113.5 300.8h0M126.8 285.5h0M110.7 306.0h0M136.7 284.2h0M124.4 303.0h0M111.4 301.6h0M113.4 305.0h0M120.8 301.9h0M121.5 305.6h0M114.4 298.4h0M112.9 318.8h0M121.5 283.6h0M111.0 308.4h0M109.6 313.3h0M128.5 275.8h0M115.6 301.1h0M125.3 280.6h0M121.2 304.7h0M115.8 299.0h0M136.5 272.6h0M116.5 300.6h0M134.8 289.0h0M126.1 296.5h0M114.4 297.4h0M112.5 310.6h0M121.8 286.0h0M134.5 278.3h0M119.6 298.3h0" stroke="#000" stroke-width="3.3" stroke-linecap="round" fill="none"/><line x1="-1.05" y1="598.80" x2="292.58" y2="-163.20" stroke="#FF0000" stroke-width="0.99"/></g>
</g>
<g>
<rect x="179.16" y="225.93" width="73.76" height="100.64" fill="#EBEBEB"/>
<line x1="193.65" y1="225.93" x2="193.65" y2="326.57" stroke="#fff" stroke-width="0.49"/>
<line x1="212.15" y1="225.93" x2="212.15" y2="326.57" stroke="#fff" stroke-width="0.49"/>
<line x1="230.65" y1="225.93" x2="230.65" y2="326.57" stroke="#fff" stroke-width="0.49"/>
<line x1="249.15" y1="225.93" x2="249.15" y2="326.57" stroke="#fff" stroke-width="0.49"/>
<line x1="179.16" y1="237.02" x2="252.92" y2="237.02" stroke="#fff" stroke-width="0.49"/>
<line x1="179.16" y1="261.32" x2="252.92" y2="261.32" stroke="#fff" stroke-width="0.49"/>
<line x1="179.16" y1="285.62" x2="252.92" y2="285.62" stroke="#fff" stroke-width="0.49"/>
<line x1="179.16" y1="309.92" x2="252.92" y2="309.92" stroke="#fff" stroke-width="0.49"/>
<line x1="184.4" y1="225.93" x2="184.4" y2="326.57" stroke="#fff" stroke-width="0.99"/>
<line x1="202.9" y1="225.93" x2="202.9" y2="326.57" stroke="#fff" stroke-width="0.99"/>
<line x1="221.3" y1="225.93" x2="221.3" y2="326.57" stroke="#fff" stroke-width="0.99"/>
<line x1="239.9" y1="225.93" x2="239.9" y2="326.57" stroke="#fff" stroke-width="0.99"/>
<line x1="179.16" y1="322.07" x2="252.92" y2="322.07" stroke="#fff" stroke-width="0.99"/>
<line x1="179.16" y1="297.77" x2="252.92" y2="297.77" stroke="#fff" stroke-width="0.99"/>
<line x1="179.16" y1="273.47" x2="252.92" y2="273.47" stroke="#fff" stroke-width="0.99"/>
<line x1="179.16" y1="249.17" x2="252.92" y2="249.17" stroke="#fff" stroke-width="0.99"/>
<!--CONTENT_2_2-->
<path d="M182.30,322.07 L182.30,310.50 C182.50,309.15 182.98,305.57 183.50,302.40 C184.02,299.23 184.70,295.30 185.40,291.50 C186.10,287.70 186.88,283.25 187.70,279.60 C188.52,275.95 189.48,272.78 190.30,269.60 C191.12,266.42 191.90,263.52 192.60,260.50 C193.30,257.48 193.88,254.83 194.50,251.50 C195.12,248.17 195.70,243.62 196.30,240.50 C196.90,237.38 197.55,234.47 198.10,232.80 C198.65,231.13 199.08,230.63 199.60,230.50 C200.12,230.37 200.55,230.48 201.20,232.00 C201.85,233.52 202.65,236.67 203.50,239.60 C204.35,242.53 205.47,246.27 206.30,249.60 C207.13,252.93 207.75,255.95 208.50,259.60 C209.25,263.25 210.12,268.02 210.80,271.50 C211.48,274.98 211.98,277.63 212.60,280.50 C213.22,283.37 213.78,286.02 214.50,288.70 C215.22,291.38 216.02,294.48 216.90,296.60 C217.78,298.72 218.85,299.87 219.80,301.40 C220.75,302.93 221.65,304.18 222.60,305.80 C223.55,307.42 224.53,309.58 225.50,311.10 C226.47,312.62 227.58,314.02 228.40,314.90 C229.22,315.78 229.43,316.03 230.40,316.40 C231.37,316.77 232.77,316.87 234.20,317.10 C235.63,317.33 237.55,317.43 239.00,317.80 C240.45,318.17 241.60,318.93 242.90,319.30 C244.20,319.67 245.70,319.77 246.80,320.00 C247.90,320.23 249.05,320.58 249.50,320.70 L249.50,322.07 Z" fill="none" stroke="#000" stroke-width="0.99" stroke-linejoin="round"/>
</g>
<g>
<line x1="280.2" y1="225.93" x2="280.2" y2="326.57" stroke="#EBEBEB" stroke-width="0.99"/>
<line x1="304.5" y1="225.93" x2="304.5" y2="326.57" stroke="#EBEBEB" stroke-width="0.99"/>
<line x1="328.8" y1="225.93" x2="328.8" y2="326.57" stroke="#EBEBEB" stroke-width="0.99"/>
<line x1="256.74" y1="243.2" x2="330.5" y2="243.2" stroke="#EBEBEB" stroke-width="0.99"/>
<line x1="256.74" y1="268.6" x2="330.5" y2="268.6" stroke="#EBEBEB" stroke-width="0.99"/>
<line x1="256.74" y1="294" x2="330.5" y2="294" stroke="#EBEBEB" stroke-width="0.99"/>
<line x1="256.74" y1="319.4" x2="330.5" y2="319.4" stroke="#EBEBEB" stroke-width="0.99"/>
<text transform="translate(293.62,273.65) scale(0.1)" class="cr" text-anchor="middle">Corr:</text>
<text transform="translate(293.62,284.85) scale(0.1)" class="cr" text-anchor="middle">0.595</text>
</g>
<g>
<line x1="357.4" y1="225.93" x2="357.4" y2="326.57" stroke="#EBEBEB" stroke-width="0.99"/>
<line x1="381.6" y1="225.93" x2="381.6" y2="326.57" stroke="#EBEBEB" stroke-width="0.99"/>
<line x1="405.8" y1="225.93" x2="405.8" y2="326.57" stroke="#EBEBEB" stroke-width="0.99"/>
<line x1="334.32" y1="243.2" x2="408.08" y2="243.2" stroke="#EBEBEB" stroke-width="0.99"/>
<line x1="334.32" y1="268.6" x2="408.08" y2="268.6" stroke="#EBEBEB" stroke-width="0.99"/>
<line x1="334.32" y1="294" x2="408.08" y2="294" stroke="#EBEBEB" stroke-width="0.99"/>
<line x1="334.32" y1="319.4" x2="408.08" y2="319.4" stroke="#EBEBEB" stroke-width="0.99"/>
<text transform="translate(371.20,273.65) scale(0.1)" class="cr" text-anchor="middle">Corr:</text>
<text transform="translate(371.20,284.85) scale(0.1)" class="cr" text-anchor="middle">0.704</text>
</g>
<g>
<rect x="24" y="330.39" width="73.76" height="100.64" fill="#EBEBEB"/>
<line x1="29.42" y1="330.39" x2="29.42" y2="431.04" stroke="#fff" stroke-width="0.49"/>
<line x1="48.17" y1="330.39" x2="48.17" y2="431.04" stroke="#fff" stroke-width="0.49"/>
<line x1="66.92" y1="330.39" x2="66.92" y2="431.04" stroke="#fff" stroke-width="0.49"/>
<line x1="85.67" y1="330.39" x2="85.67" y2="431.04" stroke="#fff" stroke-width="0.49"/>
<line x1="24" y1="349.55" x2="97.76" y2="349.55" stroke="#fff" stroke-width="0.49"/>
<line x1="24" y1="382.65" x2="97.76" y2="382.65" stroke="#fff" stroke-width="0.49"/>
<line x1="24" y1="415.75" x2="97.76" y2="415.75" stroke="#fff" stroke-width="0.49"/>
<line x1="38.8" y1="330.39" x2="38.8" y2="431.04" stroke="#fff" stroke-width="0.99"/>
<line x1="57.55" y1="330.39" x2="57.55" y2="431.04" stroke="#fff" stroke-width="0.99"/>
<line x1="76.3" y1="330.39" x2="76.3" y2="431.04" stroke="#fff" stroke-width="0.99"/>
<line x1="95.05" y1="330.39" x2="95.05" y2="431.04" stroke="#fff" stroke-width="0.99"/>
<line x1="24" y1="333" x2="97.76" y2="333" stroke="#fff" stroke-width="0.99"/>
<line x1="24" y1="366.1" x2="97.76" y2="366.1" stroke="#fff" stroke-width="0.99"/>
<line x1="24" y1="399.2" x2="97.76" y2="399.2" stroke="#fff" stroke-width="0.99"/>
<clipPath id="c30"><rect x="24.00" y="330.39" width="73.76" height="100.64"/></clipPath><g clip-path="url(#c30)"><path d="M69.3 334.9h0M46.6 338.4h0M56.2 345.3h0M59.3 344.6h0M33.6 357.5h0M34.8 359.6h0M37.1 363.1h0M44.5 359.3h0M65.4 357.3h0M65.8 366.2h0M48.7 366.6h0M35.8 369.7h0M34.8 371.4h0M33.6 372.7h0M44.5 371.4h0M50.1 371.8h0M52.2 372.7h0M58.8 372.7h0M59.3 374.9h0M51.9 375.6h0M51.9 378.8h0M58.8 378.8h0M60.6 380.5h0M34.0 372.6h0M36.4 421.4h0M36.7 426.1h0M45.8 418.5h0M51.6 375.5h0M53.4 373.8h0M52.8 378.5h0M58.1 373.8h0M58.7 379.1h0M60.5 381.4h0M61.1 383.8h0M54.6 383.2h0M56.4 386.7h0M59.3 388.5h0M62.8 390.2h0M64.6 392.6h0M62.8 393.2h0M69.3 384.7h0M67.5 388.5h0M73.4 392.6h0M64.6 397.3h0M59.9 407.3h0M64.9 409.9h0M94.3 397.7h0M77.9 382.3h0M44.7 389.4h0M45.2 395.3h0M29.9 404.9h0M45.7 404.0h0M41.8 384.0h0M39.7 385.3h0M38.6 410.0h0M37.9 389.6h0M45.9 392.6h0M47.4 397.8h0M40.4 407.3h0M33.9 380.7h0M48.7 406.8h0M35.1 411.1h0M39.5 383.8h0M46.3 397.0h0M36.3 388.8h0M57.6 401.1h0M47.2 407.8h0M41.1 387.8h0M35.7 416.8h0M48.6 401.8h0M35.9 385.5h0M41.5 385.4h0M37.9 389.6h0M34.5 405.0h0M52.3 395.3h0M34.2 384.7h0M44.4 406.4h0M32.9 397.1h0M31.2 405.1h0M41.6 391.9h0M35.4 410.2h0M42.4 410.3h0M39.1 414.2h0M38.1 413.7h0M34.5 399.7h0M37.0 404.8h0M37.3 402.9h0M36.3 401.6h0M34.3 403.7h0M46.1 384.2h0M39.1 392.9h0M41.3 386.4h0M31.9 406.7h0M42.8 384.1h0M44.7 397.3h0M46.5 402.6h0M46.6 395.2h0M40.9 394.1h0M44.1 406.1h0M47.9 389.0h0M34.7 380.7h0M44.1 397.5h0M34.4 415.3h0M39.8 408.0h0M33.8 400.7h0M31.3 415.1h0M40.1 414.2h0M40.5 409.9h0M49.5 408.8h0M34.1 409.7h0M47.5 386.8h0M37.1 381.2h0M43.8 409.6h0M37.9 416.8h0M35.4 378.4h0M56.4 398.5h0M44.6 398.8h0M40.4 393.9h0M45.9 383.4h0M49.0 400.7h0M36.2 394.6h0M41.1 378.2h0M38.8 386.7h0M48.3 406.8h0M42.6 401.3h0M41.1 408.8h0M46.9 408.0h0M39.9 395.6h0M40.3 393.6h0M46.6 386.1h0M35.2 381.3h0M32.0 405.0h0M51.0 401.8h0M39.7 382.1h0M45.4 387.5h0M46.9 410.2h0M44.8 401.7h0M37.7 413.8h0M43.1 397.2h0M34.5 402.1h0M33.8 399.9h0M54.4 398.6h0M58.1 401.2h0M52.3 395.8h0M42.0 408.9h0M44.8 380.7h0M47.2 388.6h0M40.8 404.8h0M37.8 393.1h0M36.6 403.1h0M57.3 402.0h0M39.9 409.5h0M42.4 393.9h0M43.5 389.0h0M39.4 376.2h0M54.9 396.8h0M30.9 411.2h0M35.2 398.0h0M47.1 389.2h0M44.4 407.0h0M45.7 410.5h0M42.8 412.4h0M34.9 395.6h0M32.3 381.8h0M42.0 379.9h0M47.3 391.8h0M35.8 388.0h0M30.8 403.6h0M36.3 388.9h0M41.8 401.7h0M40.1 391.3h0M35.5 379.7h0M52.3 394.5h0M44.5 407.8h0M53.3 400.4h0M32.1 406.1h0M53.8 395.2h0M34.7 405.4h0M32.9 398.3h0M32.6 392.0h0M35.3 412.6h0M32.9 399.6h0M43.8 385.0h0M35.6 378.0h0M52.5 395.4h0M35.8 399.5h0M44.9 393.9h0M36.4 395.5h0M34.8 393.2h0M31.4 401.7h0M36.2 389.0h0M42.3 392.6h0M41.3 404.2h0M41.0 382.7h0M38.5 418.3h0M31.5 412.7h0M37.9 380.4h0M33.3 416.0h0M35.3 377.5h0M34.6 392.8h0M46.1 386.9h0M31.2 397.5h0M50.0 403.8h0M46.1 382.5h0M45.2 391.4h0M51.4 389.7h0M38.8 383.5h0M37.6 385.0h0M44.9 386.9h0M42.5 405.4h0M55.7 398.1h0M50.6 391.7h0M43.7 394.2h0M49.2 406.6h0M36.4 406.8h0M54.5 399.1h0M48.6 402.1h0M43.9 405.5h0M33.7 391.3h0M40.2 416.4h0M32.4 401.0h0M47.2 394.2h0M29.9 406.3h0M31.9 405.1h0M30.7 393.1h0M33.1 416.1h0M40.9 403.9h0M43.3 378.4h0M49.6 393.6h0M46.0 391.5h0M34.3 408.2h0M36.7 398.4h0M32.3 383.4h0M35.7 402.3h0M34.7 383.6h0M52.8 398.5h0M41.2 385.2h0M31.6 406.0h0M46.8 408.9h0M34.5 381.3h0M40.1 376.5h0M37.9 388.2h0M46.7 405.9h0M56.6 398.5h0M41.1 392.4h0M36.0 394.1h0M46.6 382.8h0M31.5 396.1h0M39.6 379.8h0M43.6 392.7h0M41.0 404.8h0M37.7 386.6h0M39.3 393.1h0M31.9 413.6h0M35.2 409.9h0M35.9 388.4h0M42.0 387.8h0M37.9 400.1h0M45.4 413.0h0M46.0 406.7h0M35.4 412.2h0M51.8 400.2h0M43.9 388.9h0M35.5 401.7h0M34.5 416.3h0M35.2 379.0h0M35.1 379.1h0M28.9 408.6h0M37.6 386.0h0M40.6 404.1h0M35.1 396.4h0M42.6 399.7h0M39.7 393.2h0M54.5 397.1h0M31.6 412.9h0M34.2 415.0h0M48.1 399.5h0M51.3 402.4h0M34.8 401.2h0M41.1 395.2h0M48.4 403.6h0M36.3 386.8h0M32.0 408.4h0M43.6 406.0h0M39.8 383.1h0M40.1 400.3h0M46.1 398.8h0M40.6 413.3h0M39.1 394.2h0M40.2 395.6h0M37.0 411.3h0M36.4 382.0h0M29.7 406.0h0M42.2 390.1h0M46.3 389.9h0M33.5 391.8h0M31.3 387.0h0M34.9 381.3h0M39.2 376.6h0M53.2 400.3h0M55.7 399.6h0M32.7 381.4h0M43.2 390.2h0M34.0 397.6h0M50.6 398.2h0M38.7 415.3h0M32.2 414.8h0M32.5 389.3h0M36.5 413.2h0M35.1 402.8h0M42.8 400.7h0M48.9 408.7h0M40.6 412.5h0M43.6 411.3h0M31.8 406.7h0M46.6 407.4h0M31.2 413.0h0M44.2 408.4h0M46.4 402.3h0M52.6 393.2h0M38.5 395.5h0M32.2 398.6h0M34.9 404.1h0M34.6 415.8h0M36.2 380.7h0M33.1 408.1h0M52.0 394.7h0M33.2 394.8h0M39.0 378.9h0M44.9 396.1h0M43.8 384.1h0M32.6 412.6h0M34.2 407.7h0M38.7 409.3h0M45.9 393.0h0M48.2 389.3h0M46.8 397.1h0M37.0 404.5h0M55.8 400.8h0M32.6 413.3h0M39.9 402.0h0M41.8 396.0h0M41.8 406.9h0M54.0 400.7h0M39.3 376.5h0M31.2 403.4h0M48.7 410.2h0M42.3 382.7h0M35.2 392.8h0M38.8 377.5h0M46.6 386.5h0M40.6 403.3h0M40.9 411.9h0M34.1 397.3h0M39.8 388.5h0M40.8 405.8h0M43.2 402.9h0M35.0 404.0h0M30.9 415.9h0M32.0 413.1h0M38.1 389.7h0M36.7 409.9h0M53.8 400.8h0M35.2 388.4h0M38.8 400.4h0M36.4 403.0h0M57.0 401.6h0M28.0 406.3h0M51.9 397.1h0M37.3 412.6h0M37.4 411.9h0M46.4 397.1h0M36.3 404.8h0M46.6 395.9h0M47.2 407.0h0M53.3 403.6h0M48.5 387.2h0M39.9 391.9h0M53.4 396.9h0M34.4 415.9h0M36.6 385.7h0M49.7 386.5h0M33.8 392.8h0M41.2 379.1h0M35.7 380.4h0M49.8 399.8h0M52.1 401.6h0M42.7 405.7h0M34.5 380.0h0M36.6 417.7h0M38.1 411.4h0M52.4 403.1h0M43.7 412.0h0M46.0 399.7h0M41.3 403.6h0M45.7 388.3h0M49.3 387.6h0M41.9 392.3h0M35.5 394.1h0M32.2 412.2h0M47.3 391.1h0M44.7 394.3h0M44.1 406.1h0M36.8 410.2h0M49.2 400.9h0M45.6 382.8h0M49.6 408.5h0M33.1 398.3h0M46.6 404.9h0M52.9 397.7h0M47.2 405.2h0M38.7 414.8h0M53.2 397.5h0M37.1 394.7h0M57.3 403.1h0M50.7 392.3h0M36.2 401.7h0M33.4 399.9h0M44.7 400.9h0M35.6 405.9h0M48.0 408.2h0M33.4 409.8h0M42.1 405.7h0M34.5 380.6h0M49.3 395.2h0M39.4 411.3h0M34.9 407.1h0M33.0 380.7h0M43.6 395.1h0M32.7 417.6h0M39.2 389.4h0M35.2 398.9h0M36.5 400.2h0M29.5 407.6h0M52.6 396.3h0M48.7 391.7h0M49.5 393.1h0M39.4 380.8h0M45.1 410.8h0M42.9 409.1h0M36.4 404.1h0M35.1 396.8h0M57.0 397.2h0M48.0 384.0h0M35.8 418.0h0M32.2 394.1h0M48.8 394.9h0M43.9 397.2h0M55.1 399.9h0M36.3 407.8h0M35.5 384.8h0M41.1 386.3h0M41.8 398.8h0M32.9 389.4h0M36.2 388.1h0M35.1 391.4h0M33.5 401.3h0M55.5 399.6h0M32.5 402.6h0M53.3 395.3h0M37.0 401.1h0M45.0 401.3h0M39.4 389.6h0M42.0 414.4h0M48.9 404.8h0M44.6 406.3h0M39.9 414.2h0M32.7 403.3h0M40.5 380.9h0M47.8 401.2h0M43.8 393.4h0M50.8 397.5h0M32.5 397.7h0M36.8 389.0h0M39.2 381.5h0M37.9 395.4h0M32.7 417.7h0M33.9 391.3h0M49.1 407.5h0M41.4 390.6h0M53.2 401.2h0M39.8 383.0h0M45.0 396.3h0M40.0 407.4h0" stroke="#000" stroke-width="3.3" stroke-linecap="round" fill="none"/><line x1="-54.95" y1="597.80" x2="170.05" y2="101.30" stroke="#FF0000" stroke-width="0.99"/></g>
</g>
<g>
<rect x="101.58" y="330.39" width="73.76" height="100.64" fill="#EBEBEB"/>
<line x1="106.61" y1="330.39" x2="106.61" y2="431.04" stroke="#fff" stroke-width="0.49"/>
<line x1="126.19" y1="330.39" x2="126.19" y2="431.04" stroke="#fff" stroke-width="0.49"/>
<line x1="145.76" y1="330.39" x2="145.76" y2="431.04" stroke="#fff" stroke-width="0.49"/>
<line x1="165.34" y1="330.39" x2="165.34" y2="431.04" stroke="#fff" stroke-width="0.49"/>
<line x1="101.58" y1="349.55" x2="175.34" y2="349.55" stroke="#fff" stroke-width="0.49"/>
<line x1="101.58" y1="382.65" x2="175.34" y2="382.65" stroke="#fff" stroke-width="0.49"/>
<line x1="101.58" y1="415.75" x2="175.34" y2="415.75" stroke="#fff" stroke-width="0.49"/>
<line x1="116.4" y1="330.39" x2="116.4" y2="431.04" stroke="#fff" stroke-width="0.99"/>
<line x1="136" y1="330.39" x2="136" y2="431.04" stroke="#fff" stroke-width="0.99"/>
<line x1="155.55" y1="330.39" x2="155.55" y2="431.04" stroke="#fff" stroke-width="0.99"/>
<line x1="101.58" y1="333" x2="175.34" y2="333" stroke="#fff" stroke-width="0.99"/>
<line x1="101.58" y1="366.1" x2="175.34" y2="366.1" stroke="#fff" stroke-width="0.99"/>
<line x1="101.58" y1="399.2" x2="175.34" y2="399.2" stroke="#fff" stroke-width="0.99"/>
<clipPath id="c31"><rect x="101.58" y="330.39" width="73.76" height="100.64"/></clipPath><g clip-path="url(#c31)"><path d="M164.0 334.9h0M133.6 338.5h0M146.0 345.0h0M153.6 344.1h0M111.6 357.9h0M112.5 360.0h0M166.3 357.4h0M135.4 359.1h0M127.5 363.2h0M140.7 366.7h0M157.1 366.2h0M119.5 369.2h0M113.0 371.5h0M123.1 372.4h0M131.0 371.5h0M138.9 372.0h0M142.5 372.7h0M146.5 373.2h0M153.1 374.5h0M117.8 375.9h0M127.1 376.2h0M140.7 377.3h0M132.8 377.6h0M142.5 379.4h0M112.8 372.6h0M122.8 373.2h0M127.5 376.1h0M118.1 376.1h0M138.6 372.6h0M142.2 373.2h0M146.3 373.8h0M141.6 377.3h0M142.8 380.2h0M147.5 383.2h0M142.2 386.7h0M145.1 390.8h0M149.8 393.8h0M148.1 397.3h0M146.9 400.2h0M146.3 407.9h0M135.7 413.8h0M133.4 411.4h0M125.7 419.1h0M126.3 421.4h0M116.3 424.9h0M112.2 426.7h0M104.5 403.8h0M139.2 372.5h0M143.0 372.9h0M153.2 374.7h0M140.8 376.8h0M142.4 379.0h0M143.0 380.6h0M147.8 383.3h0M152.6 382.5h0M155.8 382.2h0M162.3 384.9h0M137.6 383.3h0M142.4 386.5h0M159.1 388.3h0M162.6 389.7h0M153.2 390.0h0M153.7 391.8h0M151.0 393.5h0M145.1 391.1h0M171.9 392.4h0M147.8 395.1h0M150.0 396.7h0M149.4 398.3h0M155.8 397.4h0M161.5 398.0h0M152.3 400.4h0M143.5 398.8h0M142.4 401.0h0M140.3 403.7h0M147.3 402.6h0M146.5 408.3h0M154.5 407.6h0M162.8 410.1h0M136.5 413.3h0M117.0 392.1h0M126.7 381.6h0M131.2 385.4h0M111.0 399.2h0M110.1 387.1h0M123.9 408.0h0M124.8 381.4h0M128.2 395.9h0M121.4 397.9h0M122.1 399.9h0M130.5 404.1h0M135.5 388.1h0M139.4 398.0h0M115.0 383.7h0M107.2 405.9h0M116.5 384.1h0M115.5 402.0h0M120.2 400.8h0M121.2 386.6h0M128.3 393.5h0M112.9 410.5h0M107.9 411.6h0M113.4 387.5h0M119.0 412.4h0M135.2 394.0h0M121.7 395.8h0M114.9 386.8h0M110.5 413.8h0M115.1 382.9h0M112.1 416.7h0M136.4 389.4h0M107.4 401.5h0M131.2 395.0h0M130.8 399.7h0M111.7 412.0h0M126.2 387.0h0M109.5 404.6h0M118.5 398.1h0M119.3 411.3h0M106.4 401.4h0M122.8 405.8h0M113.4 407.0h0M108.5 401.0h0M112.9 400.6h0M113.4 399.4h0M106.6 395.8h0M112.0 401.2h0M118.0 412.8h0M118.4 416.5h0M124.1 406.6h0M111.2 415.0h0M115.0 409.0h0M111.0 390.6h0M127.1 384.8h0M107.0 398.4h0M132.6 385.7h0M127.6 406.2h0M114.4 380.4h0M108.8 399.5h0M113.7 386.4h0M134.0 394.2h0M115.1 416.8h0M122.5 386.1h0M122.0 407.4h0M116.8 403.7h0M136.2 393.6h0M115.0 396.1h0M105.7 403.3h0M125.8 409.4h0M114.7 400.8h0M111.2 389.4h0M133.6 392.1h0M128.7 405.5h0M110.1 408.4h0M128.6 389.2h0M137.3 392.7h0M128.6 393.2h0M114.5 404.3h0M115.9 389.9h0M125.6 406.2h0M117.6 410.3h0M113.1 383.4h0M124.1 396.7h0M117.2 410.4h0M128.8 404.6h0M137.4 393.6h0M122.0 410.9h0M122.6 412.7h0M128.2 398.5h0M116.8 402.4h0M127.2 407.7h0M113.7 388.2h0M122.4 400.3h0M114.4 385.7h0M109.3 411.9h0M120.3 415.2h0M110.9 407.2h0M123.4 406.0h0M116.6 408.7h0M128.9 387.5h0M128.7 393.7h0M120.3 397.8h0M138.7 401.4h0M111.0 391.8h0M136.7 401.3h0M113.7 408.0h0M114.9 400.8h0M114.5 392.2h0M107.7 406.2h0M107.1 401.0h0M126.9 404.6h0M115.4 406.5h0M124.4 395.2h0M108.2 396.3h0M114.3 391.1h0M109.8 407.7h0M115.2 409.4h0M123.2 400.0h0M111.3 408.5h0M115.0 386.1h0M124.0 381.0h0M127.6 390.2h0M113.0 413.4h0M118.2 413.6h0M111.4 396.7h0M117.9 413.8h0M111.9 397.6h0M128.2 391.4h0M110.3 406.1h0M113.0 401.7h0M117.8 396.6h0M127.8 384.4h0M112.5 390.6h0M111.4 390.4h0M107.9 401.5h0M111.4 413.9h0M122.4 410.3h0M131.2 400.9h0M116.1 400.7h0M115.6 408.1h0M111.2 402.8h0M120.8 401.9h0M126.7 405.6h0M124.1 408.9h0M118.0 408.5h0M109.6 392.0h0M136.6 397.7h0M117.3 403.0h0M131.7 396.3h0M111.1 389.5h0M114.8 385.8h0M114.8 407.6h0M135.6 391.8h0M133.9 397.7h0M112.5 388.4h0M121.5 385.0h0M115.8 392.5h0M132.3 402.6h0M120.7 398.0h0M117.1 404.2h0M137.9 388.2h0M122.8 386.3h0M112.0 406.6h0M125.6 411.2h0M125.5 393.9h0M131.4 393.3h0M125.1 409.8h0M131.0 385.5h0M117.7 411.0h0M112.7 395.6h0M136.7 389.2h0M114.9 384.8h0M126.1 387.8h0M114.3 405.0h0M115.5 405.4h0M132.4 388.0h0M122.9 398.9h0M113.8 392.7h0M111.2 408.5h0M116.4 389.1h0M116.4 405.6h0M123.8 389.3h0M116.5 400.7h0M112.7 398.6h0M114.9 395.5h0M107.2 396.2h0M120.8 396.2h0M116.5 380.2h0M128.8 391.0h0M116.5 397.0h0M128.4 396.8h0M113.4 410.2h0M116.1 413.3h0M110.8 384.1h0M122.2 408.6h0M135.6 389.5h0M114.2 411.2h0M110.9 408.4h0M128.5 400.3h0M127.2 400.5h0M124.2 396.0h0M131.3 398.5h0M118.5 393.1h0M118.5 407.8h0M114.6 404.5h0M126.7 396.0h0M118.4 391.2h0M127.0 390.6h0M107.7 404.1h0M110.4 385.1h0M114.5 403.8h0M123.5 395.7h0M128.6 389.4h0M126.2 399.7h0M122.8 398.6h0M111.8 399.5h0M136.2 388.9h0M108.8 405.6h0M124.7 407.0h0M109.6 400.8h0M111.6 399.6h0M122.2 412.2h0M113.0 392.5h0M108.9 403.8h0M119.3 403.1h0M122.0 403.5h0M113.6 394.8h0M114.2 390.1h0M114.2 383.7h0M127.6 384.1h0M114.0 414.6h0M125.5 401.0h0M128.6 399.4h0M114.8 413.1h0M117.1 401.5h0M132.0 406.1h0M127.2 396.4h0M110.1 393.4h0M112.3 394.9h0M130.8 387.8h0M106.5 398.4h0M108.5 407.9h0M130.7 397.8h0M134.7 386.8h0M119.3 414.1h0M113.4 401.8h0M114.5 381.2h0M108.2 414.4h0M112.3 395.8h0M113.9 397.7h0M135.4 395.6h0M125.5 395.0h0M111.3 392.9h0M132.6 387.9h0M115.6 412.1h0M111.2 391.1h0M114.9 385.5h0M114.2 405.6h0M121.3 410.1h0M123.6 403.5h0M136.1 396.3h0M114.2 412.0h0M123.4 382.7h0M130.6 404.9h0M116.6 416.3h0M133.4 390.8h0M126.7 379.9h0M115.6 401.0h0M130.1 401.5h0M116.2 380.6h0M139.9 399.4h0M132.8 403.3h0M121.9 397.6h0M123.1 400.9h0M122.6 405.6h0M120.1 398.4h0M124.8 396.0h0M127.8 400.2h0M109.0 401.9h0M119.9 392.0h0M121.1 390.5h0M106.9 406.9h0M115.4 413.1h0M120.6 402.1h0M115.9 399.6h0M122.6 399.1h0M132.5 393.7h0M114.8 386.0h0M122.7 408.4h0M130.7 404.5h0M123.7 392.6h0M106.0 407.4h0M121.9 389.9h0M118.3 402.2h0M117.8 397.8h0M110.8 396.1h0M120.5 398.8h0M111.7 412.4h0M126.0 397.9h0M119.7 399.9h0M127.6 394.7h0M129.9 383.1h0M122.6 411.5h0M122.0 391.1h0M117.4 403.4h0M128.1 403.0h0M124.8 382.9h0M119.4 414.5h0M132.8 392.3h0M112.9 391.6h0M138.5 398.3h0M114.3 410.3h0M112.7 405.8h0M131.4 398.4h0M108.7 410.3h0M111.9 397.5h0M119.5 406.2h0M117.8 396.5h0M126.8 395.4h0M117.3 413.1h0M115.8 412.6h0M123.2 401.2h0M112.5 404.3h0M133.8 400.3h0M108.5 403.5h0M124.7 410.2h0M119.6 397.4h0M121.4 404.5h0M123.8 407.5h0M117.2 407.9h0M118.8 395.7h0M122.3 397.2h0M127.5 402.3h0M111.6 404.2h0M109.9 404.4h0M116.6 407.2h0M112.9 407.9h0M117.9 405.0h0M137.3 393.4h0M123.9 394.1h0M110.5 405.1h0M117.9 380.8h0M118.7 381.7h0M123.3 409.9h0M135.1 396.4h0M115.6 396.7h0M116.4 402.7h0M114.0 404.0h0M112.3 417.9h0M108.5 402.9h0M114.7 404.3h0M118.4 411.1h0M110.0 404.6h0M126.7 393.2h0M138.3 395.5h0M134.2 386.2h0M111.8 412.6h0M112.4 409.9h0M135.9 397.0h0M115.0 408.4h0M116.5 404.5h0M109.5 405.5h0M115.5 386.3h0M114.1 414.9h0M119.0 387.1h0M118.7 406.7h0M119.3 396.1h0M116.6 411.7h0M110.4 389.9h0M118.7 408.5h0M111.4 395.1h0M124.5 409.6h0M131.3 396.1h0M106.6 404.5h0M111.2 390.2h0M127.4 388.1h0M120.9 397.8h0M110.8 395.7h0M121.6 382.7h0M111.3 395.2h0M124.3 391.8h0M124.4 380.0h0M124.8 395.9h0M117.0 415.0h0M121.7 389.6h0M109.8 391.8h0M134.6 391.0h0M122.6 404.1h0M113.5 412.1h0M109.4 401.9h0M119.8 404.9h0M114.5 407.0h0M139.2 398.0h0M129.2 403.0h0M122.1 396.0h0M113.8 382.3h0M120.8 404.4h0M124.6 387.4h0M109.5 412.9h0M118.4 409.6h0M130.4 386.7h0M124.3 405.8h0M121.3 394.8h0M123.9 406.5h0M130.2 383.3h0M108.4 394.5h0M115.1 397.7h0M118.1 405.0h0M134.6 393.2h0M122.7 396.3h0M109.2 405.7h0M109.6 397.3h0M112.3 394.1h0M130.9 402.3h0M112.3 398.0h0M125.0 406.4h0M110.3 411.5h0M119.7 414.4h0M111.7 399.4h0M120.5 413.1h0M118.7 408.3h0M119.7 393.2h0M112.7 398.5h0M118.6 380.6h0M118.3 412.2h0M113.8 414.2h0M113.5 401.5h0M123.3 389.5h0M128.6 382.2h0M108.2 409.0h0M114.2 407.4h0M136.5 396.6h0M135.1 399.8h0M134.8 392.2h0M122.0 407.8h0M120.1 399.8h0M114.7 396.5h0M108.6 393.7h0M136.1 393.4h0M111.3 411.9h0M124.2 387.7h0M134.0 400.2h0M113.9 384.0h0M123.7 397.9h0M108.0 400.5h0M134.6 397.7h0M139.1 389.8h0M118.4 392.0h0M125.9 393.6h0M121.4 410.5h0M128.2 411.3h0M115.7 384.1h0M120.1 381.4h0M106.2 398.4h0M108.2 396.9h0M114.6 386.3h0M123.0 396.4h0M113.3 382.8h0M120.3 406.5h0M119.5 400.6h0M112.6 400.8h0M113.5 390.0h0M131.7 401.5h0M120.6 391.6h0M137.6 394.6h0M109.6 407.3h0M118.1 394.9h0M122.2 396.6h0M112.5 389.1h0M124.1 405.2h0M110.8 392.1h0M109.2 411.3h0M117.6 417.0h0M111.8 393.4h0M113.5 400.7h0M121.4 408.0h0M137.9 400.2h0M111.0 398.5h0M123.3 392.0h0M110.4 408.8h0M118.9 396.9h0M122.9 408.9h0M116.3 403.4h0M123.2 383.2h0M134.9 394.6h0M113.1 381.0h0M120.5 389.4h0M122.9 408.3h0M106.8 403.0h0M107.9 414.2h0M115.8 386.1h0M125.4 404.9h0M115.8 389.4h0M122.0 406.1h0M112.5 397.9h0M131.6 399.7h0M122.4 403.4h0M109.5 408.8h0M122.9 403.9h0M114.3 414.4h0M112.4 395.8h0M107.7 412.1h0M111.5 404.0h0M115.1 384.4h0M136.2 389.8h0M116.5 409.8h0M125.4 404.4h0M128.7 409.9h0M115.7 390.0h0M124.2 381.6h0M108.1 390.0h0M128.4 398.9h0M113.0 414.6h0M120.6 391.5h0M111.3 397.0h0M133.9 386.1h0M133.9 384.7h0M121.4 384.0h0M117.4 404.3h0M113.5 388.3h0M128.9 398.2h0M131.8 404.6h0M127.7 402.9h0M126.6 410.7h0M129.1 390.7h0M118.9 405.5h0M112.6 402.6h0M117.9 401.2h0M124.4 407.9h0M116.6 392.4h0M117.1 409.6h0M121.1 412.7h0M118.0 387.3h0M119.9 389.9h0M116.0 403.3h0M127.8 392.0h0M110.0 391.9h0M127.5 404.4h0" stroke="#000" stroke-width="3.3" stroke-linecap="round" fill="none"/><line x1="-1.05" y1="597.80" x2="292.58" y2="101.30" stroke="#FF0000" stroke-width="0.99"/></g>
</g>
<g>
<rect x="179.16" y="330.39" width="73.76" height="100.64" fill="#EBEBEB"/>
<line x1="193.65" y1="330.39" x2="193.65" y2="431.04" stroke="#fff" stroke-width="0.49"/>
<line x1="212.15" y1="330.39" x2="212.15" y2="431.04" stroke="#fff" stroke-width="0.49"/>
<line x1="230.65" y1="330.39" x2="230.65" y2="431.04" stroke="#fff" stroke-width="0.49"/>
<line x1="249.15" y1="330.39" x2="249.15" y2="431.04" stroke="#fff" stroke-width="0.49"/>
<line x1="179.16" y1="349.55" x2="252.92" y2="349.55" stroke="#fff" stroke-width="0.49"/>
<line x1="179.16" y1="382.65" x2="252.92" y2="382.65" stroke="#fff" stroke-width="0.49"/>
<line x1="179.16" y1="415.75" x2="252.92" y2="415.75" stroke="#fff" stroke-width="0.49"/>
<line x1="184.4" y1="330.39" x2="184.4" y2="431.04" stroke="#fff" stroke-width="0.99"/>
<line x1="202.9" y1="330.39" x2="202.9" y2="431.04" stroke="#fff" stroke-width="0.99"/>
<line x1="221.3" y1="330.39" x2="221.3" y2="431.04" stroke="#fff" stroke-width="0.99"/>
<line x1="239.9" y1="330.39" x2="239.9" y2="431.04" stroke="#fff" stroke-width="0.99"/>
<line x1="179.16" y1="333" x2="252.92" y2="333" stroke="#fff" stroke-width="0.99"/>
<line x1="179.16" y1="366.1" x2="252.92" y2="366.1" stroke="#fff" stroke-width="0.99"/>
<line x1="179.16" y1="399.2" x2="252.92" y2="399.2" stroke="#fff" stroke-width="0.99"/>
<clipPath id="c32"><rect x="179.16" y="330.39" width="73.76" height="100.64"/></clipPath><g clip-path="url(#c32)"><path d="M246.1 334.9h0M216.6 338.5h0M248.2 344.1h0M232.3 345.0h0M242.5 357.4h0M199.8 357.9h0M198.1 360.0h0M219.6 359.1h0M211.1 363.2h0M215.7 366.7h0M228.8 366.2h0M203.4 369.2h0M200.2 372.0h0M199.3 372.7h0M216.9 371.5h0M214.3 373.2h0M224.5 371.5h0M223.1 373.2h0M239.9 374.5h0M197.5 376.2h0M191.7 378.5h0M201.1 378.5h0M206.4 379.4h0M208.2 379.4h0M211.6 376.2h0M215.2 377.6h0M217.8 376.8h0M221.4 375.9h0M222.2 378.0h0M199.9 372.6h0M197.8 376.7h0M191.4 379.1h0M194.3 383.8h0M190.8 387.3h0M187.2 394.4h0M184.3 400.8h0M183.1 409.1h0M196.6 418.5h0M196.6 421.4h0M198.4 426.1h0M199.6 425.5h0M216.1 407.9h0M220.8 403.2h0M225.5 402.0h0M223.7 397.9h0M226.6 390.8h0M227.2 383.8h0M222.5 379.1h0M223.7 373.2h0M214.3 372.6h0M217.8 376.7h0M212.0 376.7h0M228.4 409.6h0M239.8 374.7h0M245.1 382.5h0M249.7 384.9h0M232.2 382.2h0M228.0 382.7h0M226.9 384.3h0M223.1 376.3h0M222.0 379.0h0M234.4 388.1h0M233.3 391.3h0M241.4 389.7h0M239.5 391.8h0M238.1 394.5h0M234.9 396.5h0M236.0 397.8h0M240.3 397.8h0M238.7 400.1h0M226.9 391.3h0M224.7 387.0h0M229.0 398.3h0M225.8 397.8h0M223.1 398.3h0M225.6 402.3h0M221.0 403.1h0M216.1 407.9h0M230.1 409.8h0M203.6 385.8h0M206.3 406.2h0M204.3 392.7h0M220.2 395.4h0M212.2 393.7h0M199.0 383.3h0M215.6 403.5h0M194.2 396.0h0M197.7 390.6h0M215.6 388.6h0M200.5 413.0h0M199.2 399.4h0M197.0 398.5h0M195.4 406.2h0M191.4 409.9h0M194.7 416.3h0M215.5 397.6h0M215.1 402.0h0M200.4 395.9h0M203.7 393.8h0M187.3 409.3h0M193.3 396.3h0M200.5 387.6h0M198.1 407.9h0M202.5 403.6h0M193.9 402.3h0M221.4 393.3h0M205.3 399.8h0M214.7 400.0h0M200.2 402.5h0M198.3 406.6h0M204.4 404.6h0M203.8 408.9h0M198.7 395.2h0M196.8 389.2h0M216.7 388.8h0M201.0 408.0h0M195.1 399.5h0M206.5 404.3h0M197.4 402.4h0M216.2 389.7h0M199.1 386.3h0M203.6 381.8h0M205.7 409.9h0M210.4 391.9h0M206.0 401.9h0M203.1 409.9h0M195.3 388.9h0M188.0 406.4h0M198.1 396.1h0M196.4 388.3h0M201.3 400.5h0M207.3 391.3h0M193.4 390.0h0M196.8 403.2h0M205.7 388.8h0M196.9 396.4h0M202.7 384.1h0M218.0 397.3h0M199.7 401.8h0M211.8 385.6h0M206.4 387.3h0M199.3 407.1h0M192.7 398.6h0M209.9 394.8h0M190.4 412.6h0M191.6 406.5h0M221.3 393.4h0M207.2 404.6h0M184.8 410.2h0M200.7 387.1h0M195.4 390.3h0M207.3 384.0h0M195.5 401.7h0M213.3 391.6h0M204.4 404.1h0M189.8 413.7h0M219.7 389.3h0M198.0 382.0h0M197.8 412.5h0M194.1 412.5h0M205.5 408.1h0M202.1 404.2h0M189.6 412.4h0M219.1 398.7h0M207.0 382.9h0M189.6 405.6h0M202.1 394.3h0M191.2 400.0h0M218.7 398.2h0M212.3 388.2h0M212.0 400.6h0M201.5 396.0h0M186.7 413.1h0M210.8 398.8h0M192.0 404.5h0M205.5 394.6h0M193.6 413.2h0M199.8 389.4h0M210.6 403.2h0M197.8 391.0h0M208.4 384.9h0M210.2 384.3h0M189.3 405.5h0M199.3 411.4h0M193.6 398.8h0M191.7 416.1h0M215.6 398.5h0M196.1 397.5h0M192.6 405.0h0M206.4 399.1h0M192.9 408.5h0M195.5 386.9h0M213.3 385.9h0M207.1 403.1h0M209.9 387.6h0M203.7 406.6h0M196.1 410.1h0M220.4 393.3h0M192.1 402.0h0M212.4 396.7h0M184.8 409.9h0M193.7 392.4h0M208.3 398.9h0M186.0 415.1h0M190.8 404.6h0M192.8 412.2h0M190.3 409.7h0M212.7 397.4h0M192.8 391.3h0M203.3 405.7h0M202.1 403.8h0M201.0 392.4h0M196.7 416.1h0M198.2 388.6h0M208.0 393.5h0M192.1 401.8h0M197.2 394.6h0M200.2 398.4h0M221.7 396.7h0M214.3 393.5h0M194.9 405.9h0M207.2 382.2h0M205.3 383.5h0M198.2 394.5h0M191.9 401.4h0M188.6 409.9h0M209.8 406.4h0M203.2 406.1h0M199.7 391.0h0M219.8 396.3h0M196.9 406.0h0M221.8 393.6h0M192.5 414.0h0M194.5 408.4h0M208.4 394.5h0M219.5 393.5h0M197.3 411.0h0M187.5 410.3h0M205.2 409.3h0M199.9 414.5h0M200.7 404.4h0M215.1 395.6h0M210.5 406.5h0M210.0 404.0h0M215.9 399.2h0M209.1 398.1h0M186.6 407.0h0M202.2 401.1h0M216.8 401.7h0M201.2 388.3h0M189.0 401.5h0M212.6 392.0h0M210.1 405.1h0M204.5 391.5h0M196.3 394.1h0M186.5 408.7h0M196.0 410.2h0M211.5 407.2h0M200.3 394.6h0M218.1 393.5h0M200.6 399.3h0M185.4 415.3h0M198.3 398.2h0M196.3 393.9h0M190.6 409.8h0M201.9 403.1h0M188.1 407.3h0M205.8 410.6h0M201.4 387.6h0M208.6 406.2h0M190.2 416.3h0M205.9 386.7h0M189.0 409.6h0M185.6 416.2h0M187.4 410.5h0M199.6 400.7h0M208.3 401.4h0M200.3 402.4h0M191.5 407.7h0M208.3 397.1h0M189.4 407.2h0M211.1 395.4h0M212.8 391.7h0M186.3 407.7h0M187.7 409.4h0M203.4 411.8h0M197.5 390.9h0M199.6 412.1h0M185.2 417.1h0M201.9 405.7h0M205.2 390.9h0M202.6 393.9h0M212.7 399.3h0M191.2 417.3h0M204.6 395.2h0M212.0 386.3h0M220.4 395.3h0M208.8 404.3h0M211.2 399.3h0M201.0 409.2h0M187.2 401.2h0M206.6 388.6h0M217.9 390.7h0M192.6 403.1h0M195.3 405.4h0M220.3 391.1h0M184.0 415.0h0M204.2 401.3h0M194.6 406.4h0M192.8 411.9h0M195.6 392.1h0M207.8 396.5h0M207.2 408.5h0M207.6 395.6h0M187.1 412.6h0M193.6 401.7h0M197.1 407.7h0M193.0 404.0h0M194.4 388.6h0M211.5 384.0h0M202.8 411.1h0M190.1 411.6h0M201.6 401.8h0M195.4 411.5h0M197.8 409.4h0M212.7 387.0h0M193.9 403.7h0M205.6 386.7h0M206.0 395.5h0M195.3 395.7h0M194.5 408.7h0M193.4 412.3h0M192.6 403.2h0M195.8 404.1h0M199.3 412.7h0M192.7 405.3h0M199.0 411.6h0M195.1 396.6h0M201.3 388.0h0M213.0 384.8h0M198.4 413.2h0M190.3 412.1h0M203.3 387.8h0M201.7 412.1h0M208.3 407.2h0M192.1 401.8h0M208.6 401.1h0M198.2 404.4h0M202.2 407.9h0M186.5 415.9h0M187.7 405.0h0M207.3 407.3h0M201.9 387.6h0M208.8 393.6h0M201.7 408.6h0M204.0 405.5h0M197.4 412.7h0M188.7 414.5h0M192.5 416.3h0M200.4 390.0h0M199.4 407.9h0M189.6 416.9h0M217.5 401.3h0M198.4 387.7h0M200.8 391.3h0M192.6 403.6h0M212.3 397.4h0M205.7 404.0h0M205.6 384.8h0M218.4 392.8h0M201.6 412.3h0M202.8 401.1h0M216.4 398.4h0M189.3 416.9h0M195.9 409.9h0M207.6 404.2h0M201.2 412.6h0M212.7 401.9h0M186.4 407.2h0M221.5 398.8h0M205.7 404.7h0M200.6 406.1h0M197.2 407.4h0M193.7 392.0h0M199.5 390.8h0M201.2 407.3h0M198.2 396.5h0M212.8 389.5h0M192.7 395.9h0M210.6 388.4h0M216.8 401.2h0M213.5 396.4h0M200.2 391.3h0M197.6 402.7h0M196.6 414.6h0M205.7 384.9h0M201.9 401.7h0M190.7 404.3h0M203.8 382.3h0M219.7 396.5h0M210.5 403.2h0M199.3 410.7h0M191.8 415.1h0M192.3 402.4h0M204.3 410.8h0M218.9 396.3h0M191.2 404.7h0M200.9 397.3h0M210.6 390.2h0M204.2 407.5h0M204.5 390.9h0M199.3 393.3h0M198.5 392.8h0M195.3 394.3h0M202.5 391.8h0M193.5 412.7h0M204.4 404.3h0M202.2 387.4h0M201.6 399.9h0M193.9 406.2h0M204.6 398.4h0M212.3 404.6h0M190.8 405.9h0M196.3 401.4h0M216.0 390.0h0M188.1 411.9h0M197.3 397.3h0M199.2 408.6h0M198.3 409.5h0M191.1 411.8h0M191.1 405.0h0M205.5 381.3h0M205.9 390.9h0M201.5 411.2h0M211.7 403.1h0M199.6 403.4h0M202.3 385.2h0M211.7 388.5h0M222.4 397.0h0M193.1 408.7h0M193.1 413.9h0M198.8 404.8h0M196.7 392.8h0M206.4 396.7h0M204.5 408.9h0M220.7 390.8h0M208.4 389.3h0M210.0 402.8h0M187.9 404.0h0M201.4 408.6h0M188.2 415.4h0M191.7 404.2h0M190.1 400.0h0M200.4 382.2h0M188.9 403.5h0M187.1 407.2h0M208.4 407.5h0M209.6 388.3h0M186.1 410.2h0M192.5 416.8h0M190.3 403.1h0M205.0 401.1h0M211.8 403.3h0M192.1 392.1h0M200.8 391.6h0M196.8 391.9h0M193.8 399.1h0M216.2 393.9h0M211.7 399.2h0M215.5 392.6h0M198.3 392.2h0M218.4 392.5h0M217.1 393.9h0M204.8 396.3h0M208.0 402.7h0M203.4 406.7h0M204.0 398.1h0M208.5 384.8h0M196.9 393.8h0M200.9 409.7h0M221.0 399.3h0M203.2 400.9h0M192.7 410.9h0M204.3 397.9h0M187.3 414.9h0M203.3 407.9h0M203.0 393.6h0M197.0 409.2h0M183.8 410.4h0M204.6 409.0h0M202.4 390.9h0M195.0 386.2h0M186.5 404.6h0M200.3 403.9h0M215.1 394.7h0M209.6 405.8h0M185.0 416.3h0M195.0 401.0h0M189.0 404.5h0M218.3 392.2h0" stroke="#000" stroke-width="3.3" stroke-linecap="round" fill="none"/><line x1="-19.10" y1="597.80" x2="535.90" y2="101.30" stroke="#FF0000" stroke-width="0.99"/></g>
</g>
<g>
<rect x="256.74" y="330.39" width="73.76" height="100.64" fill="#EBEBEB"/>
<line x1="268.05" y1="330.39" x2="268.05" y2="431.04" stroke="#fff" stroke-width="0.49"/>
<line x1="292.35" y1="330.39" x2="292.35" y2="431.04" stroke="#fff" stroke-width="0.49"/>
<line x1="316.65" y1="330.39" x2="316.65" y2="431.04" stroke="#fff" stroke-width="0.49"/>
<line x1="256.74" y1="351.3" x2="330.5" y2="351.3" stroke="#fff" stroke-width="0.49"/>
<line x1="256.74" y1="381.3" x2="330.5" y2="381.3" stroke="#fff" stroke-width="0.49"/>
<line x1="256.74" y1="411.3" x2="330.5" y2="411.3" stroke="#fff" stroke-width="0.49"/>
<line x1="280.2" y1="330.39" x2="280.2" y2="431.04" stroke="#fff" stroke-width="0.99"/>
<line x1="304.5" y1="330.39" x2="304.5" y2="431.04" stroke="#fff" stroke-width="0.99"/>
<line x1="328.8" y1="330.39" x2="328.8" y2="431.04" stroke="#fff" stroke-width="0.99"/>
<line x1="256.74" y1="426.3" x2="330.5" y2="426.3" stroke="#fff" stroke-width="0.99"/>
<line x1="256.74" y1="396.3" x2="330.5" y2="396.3" stroke="#fff" stroke-width="0.99"/>
<line x1="256.74" y1="366.3" x2="330.5" y2="366.3" stroke="#fff" stroke-width="0.99"/>
<line x1="256.74" y1="336.3" x2="330.5" y2="336.3" stroke="#fff" stroke-width="0.99"/>
<!--CONTENT_3_3-->
<path d="M260.00,426.30 L260.00,426.00 C260.30,425.60 261.20,424.75 261.80,423.60 C262.40,422.45 263.05,421.37 263.60,419.10 C264.15,416.83 264.55,413.63 265.10,410.00 C265.65,406.37 266.30,401.85 266.90,397.30 C267.50,392.75 268.10,387.55 268.70,382.70 C269.30,377.85 269.88,372.73 270.50,368.20 C271.12,363.67 271.78,359.28 272.40,355.50 C273.02,351.72 273.60,348.30 274.20,345.50 C274.80,342.70 275.40,340.37 276.00,338.70 C276.60,337.03 277.20,336.17 277.80,335.50 C278.40,334.83 278.98,334.40 279.60,334.70 C280.22,335.00 280.88,335.35 281.50,337.30 C282.12,339.25 282.70,342.77 283.30,346.40 C283.90,350.03 284.50,354.57 285.10,359.10 C285.70,363.63 286.30,369.05 286.90,373.60 C287.50,378.15 288.10,382.75 288.70,386.40 C289.30,390.05 289.97,392.97 290.50,395.50 C291.03,398.03 291.33,399.30 291.90,401.60 C292.47,403.90 293.25,407.13 293.90,409.30 C294.55,411.47 295.17,413.15 295.80,414.60 C296.43,416.05 296.90,416.95 297.70,418.00 C298.50,419.05 299.63,419.93 300.60,420.90 C301.57,421.87 302.70,423.25 303.50,423.80 C304.30,424.35 304.60,424.18 305.40,424.20 C306.20,424.22 307.48,423.90 308.30,423.90 C309.12,423.90 309.57,423.87 310.30,424.20 C311.03,424.53 311.90,425.52 312.70,425.90 C313.50,426.28 314.22,426.50 315.10,426.50 C315.98,426.50 317.03,426.07 318.00,425.90 C318.97,425.73 319.93,425.50 320.90,425.50 C321.87,425.50 322.77,425.78 323.80,425.90 C324.83,426.02 326.55,426.15 327.10,426.20 L327.10,426.30 Z" fill="none" stroke="#000" stroke-width="0.99" stroke-linejoin="round"/>
</g>
<g>
<line x1="357.4" y1="330.39" x2="357.4" y2="431.04" stroke="#EBEBEB" stroke-width="0.99"/>
<line x1="381.6" y1="330.39" x2="381.6" y2="431.04" stroke="#EBEBEB" stroke-width="0.99"/>
<line x1="405.8" y1="330.39" x2="405.8" y2="431.04" stroke="#EBEBEB" stroke-width="0.99"/>
<line x1="334.32" y1="333" x2="408.08" y2="333" stroke="#EBEBEB" stroke-width="0.99"/>
<line x1="334.32" y1="366.1" x2="408.08" y2="366.1" stroke="#EBEBEB" stroke-width="0.99"/>
<line x1="334.32" y1="399.2" x2="408.08" y2="399.2" stroke="#EBEBEB" stroke-width="0.99"/>
<text transform="translate(371.20,378.11) scale(0.1)" class="cr" text-anchor="middle">Corr:</text>
<text transform="translate(371.20,389.31) scale(0.1)" class="cr" text-anchor="middle">0.402</text>
</g>
<g>
<rect x="24" y="434.86" width="73.76" height="100.64" fill="#EBEBEB"/>
<line x1="29.42" y1="434.86" x2="29.42" y2="535.5" stroke="#fff" stroke-width="0.49"/>
<line x1="48.17" y1="434.86" x2="48.17" y2="535.5" stroke="#fff" stroke-width="0.49"/>
<line x1="66.92" y1="434.86" x2="66.92" y2="535.5" stroke="#fff" stroke-width="0.49"/>
<line x1="85.67" y1="434.86" x2="85.67" y2="535.5" stroke="#fff" stroke-width="0.49"/>
<line x1="24" y1="454.8" x2="97.76" y2="454.8" stroke="#fff" stroke-width="0.49"/>
<line x1="24" y1="488.4" x2="97.76" y2="488.4" stroke="#fff" stroke-width="0.49"/>
<line x1="24" y1="522" x2="97.76" y2="522" stroke="#fff" stroke-width="0.49"/>
<line x1="38.8" y1="434.86" x2="38.8" y2="535.5" stroke="#fff" stroke-width="0.99"/>
<line x1="57.55" y1="434.86" x2="57.55" y2="535.5" stroke="#fff" stroke-width="0.99"/>
<line x1="76.3" y1="434.86" x2="76.3" y2="535.5" stroke="#fff" stroke-width="0.99"/>
<line x1="95.05" y1="434.86" x2="95.05" y2="535.5" stroke="#fff" stroke-width="0.99"/>
<line x1="24" y1="438" x2="97.76" y2="438" stroke="#fff" stroke-width="0.99"/>
<line x1="24" y1="471.6" x2="97.76" y2="471.6" stroke="#fff" stroke-width="0.99"/>
<line x1="24" y1="505.2" x2="97.76" y2="505.2" stroke="#fff" stroke-width="0.99"/>
<clipPath id="c40"><rect x="24.00" y="434.86" width="73.76" height="100.64"/></clipPath><g clip-path="url(#c40)"><path d="M74.1 439.6h0M64.0 442.4h0M64.4 447.6h0M50.5 451.8h0M67.5 453.2h0M60.9 458.7h0M41.4 461.5h0M44.5 461.9h0M65.3 462.2h0M56.2 464.0h0M47.5 466.2h0M43.2 468.0h0M69.6 467.1h0M46.3 470.2h0M50.5 470.6h0M58.0 468.8h0M59.7 469.7h0M57.1 471.4h0M60.6 472.3h0M43.2 472.3h0M64.9 472.0h0M78.3 474.4h0M50.1 476.7h0M62.3 476.7h0M39.7 477.5h0M58.8 475.8h0M57.1 479.3h0M54.5 480.1h0M51.9 481.0h0M58.8 481.0h0M60.6 480.1h0M65.8 484.5h0M94.5 484.5h0M39.7 481.0h0M41.4 483.6h0M39.3 479.2h0M40.5 480.9h0M51.1 481.5h0M52.8 483.3h0M55.2 481.5h0M58.1 479.8h0M59.3 482.1h0M61.6 480.4h0M65.8 485.1h0M56.4 486.8h0M55.8 490.4h0M57.5 491.5h0M61.6 490.9h0M53.4 495.6h0M55.8 497.4h0M59.9 499.2h0M65.8 501.5h0M55.8 510.4h0M58.4 509.2h0M51.1 513.3h0M45.2 521.5h0M35.8 531.5h0M26.4 516.2h0M37.6 491.9h0M43.4 495.0h0M40.4 509.9h0M37.5 511.0h0M34.2 525.7h0M32.2 507.3h0M51.2 491.9h0M40.9 505.0h0M46.9 489.8h0M32.0 513.8h0M45.8 488.9h0M47.6 497.0h0M37.0 512.3h0M32.4 515.6h0M36.6 494.5h0M42.4 502.2h0M28.8 517.7h0M30.0 524.1h0M29.0 513.4h0M41.1 500.0h0M40.1 488.3h0M47.8 507.7h0M36.8 520.0h0M36.6 504.7h0M48.1 493.7h0M43.5 491.9h0M31.2 520.7h0M37.8 518.0h0M30.7 523.3h0M47.2 508.0h0M42.0 503.0h0M39.2 492.1h0M36.6 493.5h0M35.2 503.1h0M41.6 505.8h0M39.5 502.7h0M45.6 490.5h0M44.3 494.5h0M43.7 500.0h0M37.8 522.5h0M43.1 492.7h0M43.0 502.2h0M47.6 491.9h0M44.8 504.1h0M44.1 497.0h0M45.7 508.8h0M39.6 493.8h0M48.3 502.3h0M37.5 497.2h0M47.9 498.4h0M48.2 503.4h0M43.5 513.2h0M39.8 493.6h0M39.7 500.0h0M43.3 501.7h0M40.8 514.2h0M46.0 499.6h0M46.9 499.7h0M34.5 509.5h0M36.7 494.5h0M33.4 523.2h0M34.0 507.9h0M46.0 503.2h0M40.2 502.8h0M30.6 512.3h0M45.1 517.8h0M35.8 495.9h0M51.0 504.9h0M40.8 492.1h0M35.0 496.6h0M45.0 499.2h0M43.8 497.8h0M33.7 499.1h0M31.7 524.7h0M47.2 502.4h0M31.4 526.4h0M37.1 522.8h0M32.2 521.0h0M37.0 492.1h0M46.8 510.7h0M34.6 527.3h0M41.7 513.3h0M40.8 514.1h0M34.1 507.9h0M45.4 486.9h0M34.2 499.8h0M46.3 510.7h0M41.8 508.9h0M30.9 524.0h0M40.2 486.9h0M44.0 508.6h0M36.5 515.5h0M40.3 521.1h0M41.6 495.8h0M40.1 498.9h0M46.1 496.3h0M41.5 500.0h0M37.1 514.3h0M45.8 507.3h0M40.6 511.5h0M45.0 505.5h0M41.0 486.6h0M46.5 493.0h0M44.0 489.9h0M51.0 499.6h0M36.2 520.1h0M48.5 507.8h0M32.6 506.9h0M33.2 527.1h0M34.9 524.3h0M41.4 506.5h0M40.5 516.1h0M35.2 520.2h0M42.4 490.4h0M47.2 486.5h0M33.9 510.2h0M32.2 515.8h0M46.3 511.6h0M42.8 486.4h0M35.1 497.8h0M41.6 487.7h0M42.0 497.1h0M39.1 513.7h0M44.7 517.7h0M33.6 514.9h0M48.8 501.9h0M41.3 492.0h0M45.0 504.1h0M47.0 490.8h0M37.3 492.5h0M37.7 518.0h0M35.8 517.6h0M33.4 508.5h0M35.0 523.3h0M46.1 494.1h0M37.7 516.4h0M41.2 520.0h0M45.9 511.9h0M41.1 517.5h0M36.0 510.9h0M44.4 516.7h0M39.1 517.9h0M39.9 519.1h0M37.5 510.1h0M37.6 521.7h0M33.5 520.9h0M40.3 488.9h0M37.0 495.7h0M39.4 498.0h0M33.9 524.4h0M42.8 487.7h0M32.9 504.2h0M36.3 522.7h0M33.6 503.0h0M34.6 503.1h0M45.1 487.1h0M35.1 522.2h0M42.4 505.1h0M37.1 505.7h0M37.2 488.0h0M36.1 492.0h0M36.9 511.8h0M30.9 509.4h0M48.9 508.0h0M45.6 516.4h0M36.9 500.0h0M44.5 488.6h0M48.2 499.7h0M31.2 528.1h0M35.0 501.2h0M35.0 514.8h0M33.0 512.3h0M45.4 486.5h0M47.9 506.2h0M46.2 512.2h0M42.7 487.7h0M45.6 512.3h0M34.1 522.0h0M36.6 492.4h0M37.5 520.8h0M39.6 499.7h0M45.5 496.4h0M35.3 499.1h0M40.1 522.8h0M41.1 514.4h0M43.4 506.7h0M33.6 502.3h0M32.8 502.3h0M44.2 487.8h0M33.3 512.7h0M29.9 520.0h0M40.2 522.3h0M35.5 512.2h0M46.4 484.7h0M36.3 498.3h0M32.0 519.8h0M36.3 517.4h0M39.6 496.9h0M37.5 493.6h0M47.8 502.9h0M48.1 492.5h0M38.5 521.6h0M37.9 512.8h0M33.2 523.1h0M39.8 488.2h0M39.6 515.3h0M47.7 507.8h0M45.9 493.2h0M34.6 496.3h0M44.5 502.2h0M42.0 504.1h0M39.6 482.9h0M50.9 491.2h0M46.5 499.7h0M34.6 507.0h0M36.7 516.2h0M36.9 488.7h0M39.3 497.9h0M40.9 515.0h0M43.0 516.3h0M37.7 496.7h0M42.8 502.9h0M34.2 502.7h0M34.0 516.1h0M45.3 514.8h0M44.8 490.6h0M39.4 487.9h0M39.4 510.1h0M36.8 494.7h0M48.1 495.6h0M47.3 506.0h0M37.4 503.7h0M43.5 515.7h0M40.9 492.0h0M38.7 517.9h0M39.3 496.3h0M48.5 490.7h0M45.7 497.5h0M39.6 507.2h0M33.6 507.0h0M38.2 493.2h0M44.9 488.5h0M45.7 503.7h0M41.5 499.3h0M39.8 506.1h0M37.9 507.7h0M40.0 484.3h0M30.6 514.4h0M41.5 487.1h0M38.6 515.1h0M36.6 504.1h0M40.5 505.3h0M33.4 511.4h0M41.2 493.9h0M45.4 507.4h0M43.2 508.1h0M46.8 486.3h0M38.2 514.6h0M34.9 509.0h0M30.6 522.1h0M42.3 515.5h0M39.5 505.3h0M37.6 496.1h0M33.9 523.4h0M46.8 495.4h0M33.1 514.4h0M43.7 508.2h0M30.6 514.8h0M36.2 517.1h0M40.9 508.3h0M39.9 489.3h0M32.9 526.5h0M30.2 516.8h0M35.0 496.7h0M31.2 527.3h0M51.6 490.5h0M40.6 502.6h0M35.7 498.2h0M46.6 498.4h0M37.5 518.8h0M36.0 508.4h0M45.3 514.7h0M38.8 506.0h0M36.1 507.0h0M34.2 495.6h0M43.0 498.9h0M34.5 513.6h0M28.7 523.3h0M37.0 495.1h0M40.4 515.2h0M38.8 519.9h0M41.7 501.0h0M43.6 508.8h0M50.5 501.3h0M33.3 519.0h0M40.4 489.0h0M38.8 511.3h0M38.3 509.6h0M44.2 515.4h0M40.8 509.0h0M39.4 487.7h0M32.6 511.2h0M46.9 510.3h0M38.0 491.2h0M42.0 516.4h0M34.5 492.4h0M43.5 518.8h0M38.4 494.2h0M45.9 486.6h0M40.2 501.6h0M43.9 496.9h0M40.1 512.9h0M38.5 499.6h0M41.2 501.0h0M35.8 510.4h0M42.0 486.7h0M33.3 497.2h0M40.1 510.4h0M38.6 516.9h0M35.4 516.7h0M43.8 489.4h0M34.4 507.7h0M34.1 499.6h0M30.6 522.4h0M35.4 525.0h0M36.4 515.2h0M34.8 502.0h0M41.3 509.1h0M37.0 521.2h0M41.8 518.7h0M36.4 523.9h0M33.7 510.4h0M33.1 521.3h0M37.2 491.0h0M39.0 502.4h0M37.9 508.4h0M48.1 505.7h0M42.6 500.8h0M47.0 486.4h0M48.4 495.8h0M35.9 519.0h0M46.8 493.5h0M47.7 507.7h0M34.9 519.6h0M37.7 520.0h0M48.8 507.6h0M42.5 518.4h0M38.1 506.8h0M47.5 496.0h0M41.2 485.6h0M47.4 491.2h0M39.8 494.2h0M37.7 506.6h0M37.3 495.3h0M49.5 498.5h0M45.8 503.8h0M31.3 525.4h0M43.3 493.2h0M41.3 521.8h0M40.0 516.5h0M34.3 526.5h0M35.7 523.6h0M42.0 509.8h0M43.1 494.2h0M36.7 517.7h0M31.9 508.6h0M35.9 501.3h0M43.4 493.1h0M38.9 503.9h0M42.7 517.8h0M47.4 503.0h0M43.5 509.2h0M47.5 491.3h0M30.4 508.3h0M36.4 508.4h0M41.2 484.0h0M41.8 510.6h0M44.8 503.9h0M32.3 512.0h0M38.7 504.2h0M46.8 488.0h0M37.6 504.9h0M36.4 515.1h0M43.4 512.5h0" stroke="#000" stroke-width="3.3" stroke-linecap="round" fill="none"/><line x1="-54.95" y1="706.80" x2="170.05" y2="202.80" stroke="#FF0000" stroke-width="0.99"/></g>
</g>
<g>
<rect x="101.58" y="434.86" width="73.76" height="100.64" fill="#EBEBEB"/>
<line x1="106.61" y1="434.86" x2="106.61" y2="535.5" stroke="#fff" stroke-width="0.49"/>
<line x1="126.19" y1="434.86" x2="126.19" y2="535.5" stroke="#fff" stroke-width="0.49"/>
<line x1="145.76" y1="434.86" x2="145.76" y2="535.5" stroke="#fff" stroke-width="0.49"/>
<line x1="165.34" y1="434.86" x2="165.34" y2="535.5" stroke="#fff" stroke-width="0.49"/>
<line x1="101.58" y1="454.8" x2="175.34" y2="454.8" stroke="#fff" stroke-width="0.49"/>
<line x1="101.58" y1="488.4" x2="175.34" y2="488.4" stroke="#fff" stroke-width="0.49"/>
<line x1="101.58" y1="522" x2="175.34" y2="522" stroke="#fff" stroke-width="0.49"/>
<line x1="116.4" y1="434.86" x2="116.4" y2="535.5" stroke="#fff" stroke-width="0.99"/>
<line x1="136" y1="434.86" x2="136" y2="535.5" stroke="#fff" stroke-width="0.99"/>
<line x1="155.55" y1="434.86" x2="155.55" y2="535.5" stroke="#fff" stroke-width="0.99"/>
<line x1="101.58" y1="438" x2="175.34" y2="438" stroke="#fff" stroke-width="0.99"/>
<line x1="101.58" y1="471.6" x2="175.34" y2="471.6" stroke="#fff" stroke-width="0.99"/>
<line x1="101.58" y1="505.2" x2="175.34" y2="505.2" stroke="#fff" stroke-width="0.99"/>
<clipPath id="c41"><rect x="101.58" y="434.86" width="73.76" height="100.64"/></clipPath><g clip-path="url(#c41)"><path d="M171.9 439.6h0M162.4 442.3h0M155.7 447.8h0M159.2 453.1h0M137.2 451.6h0M141.9 458.7h0M118.6 461.4h0M123.9 462.2h0M128.0 461.9h0M147.4 463.6h0M153.6 462.2h0M136.3 466.6h0M128.4 468.4h0M142.5 468.4h0M142.5 471.1h0M143.4 473.7h0M143.4 476.4h0M147.8 470.2h0M153.6 468.4h0M162.8 467.5h0M164.2 467.2h0M162.4 471.9h0M133.6 470.7h0M131.0 472.8h0M154.8 474.6h0M152.2 476.4h0M149.5 478.1h0M147.2 479.0h0M138.1 476.4h0M139.8 479.0h0M137.2 479.9h0M129.2 477.2h0M123.9 480.8h0M125.6 480.3h0M152.2 481.3h0M153.1 483.4h0M144.2 481.3h0M161.9 484.3h0M166.3 484.3h0M132.8 482.5h0M135.4 482.5h0M120.4 483.4h0M105.7 504.8h0M119.8 527.8h0M120.4 530.7h0M145.7 509.5h0M141.0 506.0h0M148.1 497.2h0M149.8 490.7h0M145.7 487.8h0M142.8 485.4h0M144.5 483.0h0M145.1 480.7h0M148.6 478.4h0M129.8 477.8h0M139.8 477.2h0M120.4 483.6h0M143.1 476.5h0M149.1 477.6h0M152.4 477.1h0M145.3 480.9h0M152.9 480.9h0M152.9 482.5h0M161.1 485.6h0M166.3 484.7h0M145.3 485.8h0M146.9 486.9h0M152.4 486.7h0M140.9 486.9h0M142.0 488.5h0M149.1 491.0h0M142.5 491.8h0M148.0 497.3h0M150.2 498.9h0M154.5 499.4h0M157.3 501.6h0M138.7 496.2h0M140.9 506.5h0M145.3 509.8h0M146.4 508.7h0M136.5 509.8h0M112.0 513.4h0M119.5 509.2h0M127.9 495.8h0M126.3 505.8h0M121.5 520.1h0M122.3 514.4h0M112.4 515.6h0M126.3 511.9h0M130.5 487.0h0M129.1 499.6h0M123.2 489.4h0M111.2 505.6h0M132.6 498.1h0M124.9 483.3h0M133.7 502.1h0M122.0 499.0h0M121.9 490.1h0M121.6 505.2h0M113.6 511.8h0M128.6 502.3h0M135.4 501.5h0M120.2 499.9h0M109.1 516.4h0M123.1 508.7h0M125.4 499.9h0M131.2 488.7h0M116.7 512.4h0M132.0 505.3h0M124.5 493.2h0M116.3 506.5h0M131.5 509.1h0M129.8 498.8h0M118.6 515.3h0M118.9 518.1h0M112.0 520.2h0M128.6 494.8h0M116.6 522.0h0M117.4 520.1h0M110.8 512.3h0M128.0 498.4h0M106.9 522.1h0M119.5 490.5h0M109.9 514.5h0M108.6 515.3h0M112.7 499.8h0M123.9 506.7h0M135.0 502.8h0M112.9 521.3h0M123.4 491.4h0M124.1 514.4h0M130.7 484.6h0M121.3 500.2h0M120.4 493.3h0M120.1 485.9h0M121.5 520.4h0M122.3 489.1h0M132.3 504.3h0M119.4 505.6h0M132.3 495.2h0M115.2 515.7h0M107.7 514.3h0M111.1 512.6h0M126.4 503.8h0M121.8 517.7h0M136.1 497.3h0M114.5 510.0h0M116.3 496.5h0M128.1 486.7h0M128.7 488.5h0M129.6 482.7h0M114.1 509.4h0M120.2 487.2h0M117.8 518.8h0M123.2 510.0h0M117.6 492.7h0M125.5 511.2h0M121.7 491.7h0M116.0 499.7h0M133.1 502.0h0M121.3 489.9h0M119.8 502.0h0M129.8 503.3h0M111.9 524.4h0M112.6 519.3h0M131.3 507.5h0M124.9 485.7h0M114.4 521.0h0M111.6 516.3h0M114.2 512.5h0M133.4 506.1h0M109.7 520.4h0M128.6 510.6h0M129.5 507.7h0M120.3 513.2h0M125.7 495.8h0M124.4 508.1h0M124.7 501.3h0M124.7 496.8h0M115.3 498.6h0M126.8 499.2h0M124.5 499.1h0M117.8 516.8h0M118.8 515.5h0M112.5 511.8h0M107.8 515.5h0M127.6 488.8h0M121.4 516.4h0M111.7 502.9h0M129.0 497.7h0M118.7 497.9h0M120.7 515.1h0M116.4 506.0h0M121.4 504.5h0M118.0 521.7h0M107.6 514.7h0M126.1 498.8h0M122.4 506.1h0M116.6 509.8h0M136.4 502.0h0M128.1 509.6h0M125.0 490.9h0M108.0 509.8h0M115.1 497.2h0M116.6 513.4h0M123.4 512.0h0M124.1 509.1h0M127.2 508.9h0M130.9 482.9h0M109.8 510.2h0M129.4 486.4h0M132.1 504.0h0M109.8 519.3h0M122.7 511.9h0M118.4 507.6h0M111.5 520.1h0M129.1 495.7h0M116.7 519.3h0M117.8 521.3h0M113.0 514.7h0M116.5 504.0h0M131.4 496.8h0M133.6 486.6h0M124.6 488.5h0M135.6 498.9h0M117.0 516.5h0M124.7 495.5h0M127.9 501.5h0M135.0 483.5h0M107.4 519.3h0M112.1 515.9h0M113.5 521.5h0M131.0 493.3h0M118.3 512.4h0M119.6 502.2h0M130.0 502.1h0M125.2 503.7h0M118.1 495.2h0M118.9 491.1h0M123.5 504.0h0M122.4 508.4h0M120.7 495.4h0M131.1 481.6h0M111.8 517.8h0M120.8 520.5h0M121.0 493.1h0M120.0 499.1h0M132.9 503.2h0M120.9 518.6h0M124.0 508.2h0M121.6 512.4h0M113.9 511.1h0M116.9 492.7h0M108.9 518.9h0M109.0 514.9h0M110.9 520.5h0M117.0 523.5h0M116.5 519.8h0M135.1 505.9h0M122.6 496.1h0M122.1 510.8h0M119.8 496.5h0M107.6 514.2h0M115.5 499.9h0M121.2 509.7h0M108.2 518.5h0M120.2 515.8h0M112.4 508.8h0M125.9 489.2h0M136.0 489.3h0M112.6 501.8h0M112.3 520.3h0M130.1 481.7h0M129.0 507.8h0M121.0 519.9h0M120.3 518.5h0M123.9 518.4h0M114.7 516.3h0M115.2 520.2h0M132.2 491.9h0M117.9 508.1h0M113.4 512.8h0M137.0 504.3h0M117.8 515.5h0M135.5 505.1h0M123.4 499.7h0M115.7 523.0h0M127.3 501.1h0M134.6 488.1h0M126.5 508.5h0M122.4 498.1h0M136.4 499.0h0M123.5 492.3h0M110.0 524.8h0M108.7 519.0h0M123.5 494.8h0M129.1 491.7h0M121.5 490.7h0M112.7 506.3h0M119.0 512.2h0M124.8 497.5h0M118.5 491.9h0M119.5 510.8h0M129.5 492.5h0M135.6 502.7h0M119.6 509.8h0M108.3 515.7h0M137.1 502.9h0M115.9 512.1h0M126.0 488.9h0M120.9 519.4h0M122.5 484.3h0M116.8 519.8h0M130.4 501.3h0M125.6 486.5h0M132.8 508.4h0M119.7 514.2h0M125.3 506.1h0M128.4 487.4h0M115.4 512.8h0M116.0 505.7h0M111.6 508.9h0M115.0 513.6h0M123.0 512.6h0M134.0 486.8h0M117.7 519.1h0M128.7 500.3h0M120.5 507.9h0M132.6 499.5h0M120.9 520.4h0M125.4 509.2h0M118.5 523.3h0M114.2 521.3h0M129.4 492.5h0M118.7 512.0h0M138.5 489.2h0M128.2 505.2h0M106.4 518.0h0M131.0 503.6h0M125.9 503.9h0M120.7 489.5h0M137.9 489.7h0M131.7 485.4h0M126.5 510.6h0M132.4 498.6h0M132.5 492.8h0M119.8 497.9h0M114.5 516.1h0M116.5 513.9h0M127.1 513.2h0M120.3 486.1h0M108.2 513.7h0M118.0 514.2h0M118.6 503.3h0M120.2 502.9h0M116.4 518.6h0M113.9 508.3h0M125.9 490.0h0M112.8 518.3h0M119.6 513.3h0M114.7 503.7h0M114.4 514.6h0M132.4 497.1h0M117.4 520.7h0M118.9 504.8h0M137.7 489.7h0M115.7 505.9h0M130.7 493.3h0M123.4 513.4h0M124.9 489.9h0M119.1 496.4h0M122.3 513.6h0M124.9 504.7h0M134.3 503.4h0M124.8 508.4h0M130.8 486.5h0M107.8 512.4h0M135.4 484.6h0M123.0 519.4h0M129.1 486.3h0M111.7 521.6h0M121.2 506.4h0M128.9 485.4h0M116.1 496.4h0M117.4 498.0h0M114.6 504.5h0M127.5 491.9h0M128.2 498.3h0M136.7 504.8h0M122.7 503.9h0M124.2 491.4h0M122.3 518.0h0M115.1 501.2h0M133.7 497.2h0M120.3 488.9h0M132.2 500.8h0M133.6 499.5h0M123.4 490.8h0M136.1 489.6h0M118.1 509.6h0M114.5 500.1h0M110.6 512.8h0M132.0 504.4h0M117.2 498.6h0M125.7 484.6h0M132.8 485.2h0M121.4 488.9h0M110.9 520.4h0M115.5 503.0h0M122.0 509.4h0M120.8 519.7h0M128.0 487.8h0M114.9 508.8h0M121.6 507.6h0M133.3 495.0h0M107.8 517.8h0M118.4 523.7h0M133.3 502.6h0M110.1 520.8h0M115.1 496.1h0M134.3 484.2h0M136.0 495.7h0M112.6 499.3h0M123.6 501.2h0M118.4 491.2h0M115.9 508.9h0M122.5 506.6h0M128.4 496.4h0M130.1 501.0h0M110.8 521.8h0M124.8 486.5h0M114.1 518.9h0M127.2 494.9h0M133.8 494.0h0M129.4 500.2h0M116.1 515.8h0M121.6 499.8h0M124.3 504.5h0M135.5 492.5h0M126.7 503.3h0M132.2 501.3h0M120.2 509.8h0M116.4 514.6h0M134.7 503.3h0M117.9 522.6h0M121.9 498.6h0M119.8 514.1h0M122.9 505.9h0M124.9 494.6h0M136.9 499.3h0M109.3 516.1h0M130.9 485.1h0M132.2 499.2h0M109.7 523.2h0M125.3 515.9h0M121.2 509.2h0M131.9 498.8h0M125.8 502.0h0M122.4 505.5h0M123.5 489.4h0M127.7 504.9h0M126.7 496.6h0M118.9 488.5h0M113.5 521.0h0M129.8 485.5h0M114.8 507.6h0M122.2 501.5h0M109.9 522.3h0M128.6 490.8h0M127.9 506.6h0M130.2 506.0h0M126.3 509.1h0M121.9 492.3h0M121.6 493.0h0M118.9 502.7h0M114.0 512.0h0M131.1 490.7h0M112.4 524.0h0M128.7 490.5h0M110.9 507.7h0M129.4 495.1h0M136.5 486.1h0M130.3 504.3h0M123.6 519.5h0M122.0 507.5h0M106.6 516.4h0M116.8 515.8h0M121.6 491.6h0M117.3 513.4h0" stroke="#000" stroke-width="3.3" stroke-linecap="round" fill="none"/><line x1="-1.05" y1="706.80" x2="292.58" y2="202.80" stroke="#FF0000" stroke-width="0.99"/></g>
</g>
<g>
<rect x="179.16" y="434.86" width="73.76" height="100.64" fill="#EBEBEB"/>
<line x1="193.65" y1="434.86" x2="193.65" y2="535.5" stroke="#fff" stroke-width="0.49"/>
<line x1="212.15" y1="434.86" x2="212.15" y2="535.5" stroke="#fff" stroke-width="0.49"/>
<line x1="230.65" y1="434.86" x2="230.65" y2="535.5" stroke="#fff" stroke-width="0.49"/>
<line x1="249.15" y1="434.86" x2="249.15" y2="535.5" stroke="#fff" stroke-width="0.49"/>
<line x1="179.16" y1="454.8" x2="252.92" y2="454.8" stroke="#fff" stroke-width="0.49"/>
<line x1="179.16" y1="488.4" x2="252.92" y2="488.4" stroke="#fff" stroke-width="0.49"/>
<line x1="179.16" y1="522" x2="252.92" y2="522" stroke="#fff" stroke-width="0.49"/>
<line x1="184.4" y1="434.86" x2="184.4" y2="535.5" stroke="#fff" stroke-width="0.99"/>
<line x1="202.9" y1="434.86" x2="202.9" y2="535.5" stroke="#fff" stroke-width="0.99"/>
<line x1="221.3" y1="434.86" x2="221.3" y2="535.5" stroke="#fff" stroke-width="0.99"/>
<line x1="239.9" y1="434.86" x2="239.9" y2="535.5" stroke="#fff" stroke-width="0.99"/>
<line x1="179.16" y1="438" x2="252.92" y2="438" stroke="#fff" stroke-width="0.99"/>
<line x1="179.16" y1="471.6" x2="252.92" y2="471.6" stroke="#fff" stroke-width="0.99"/>
<line x1="179.16" y1="505.2" x2="252.92" y2="505.2" stroke="#fff" stroke-width="0.99"/>
<clipPath id="c42"><rect x="179.16" y="434.86" width="73.76" height="100.64"/></clipPath><g clip-path="url(#c42)"><path d="M239.0 439.6h0M241.1 441.9h0M225.8 447.2h0M205.1 451.6h0M234.6 453.1h0M194.0 461.4h0M203.4 462.2h0M210.4 461.9h0M225.8 458.7h0M225.2 463.6h0M234.1 462.2h0M206.4 466.1h0M209.4 466.6h0M214.3 468.4h0M218.7 469.3h0M221.4 471.1h0M223.1 472.5h0M226.6 470.2h0M229.3 471.9h0M231.1 473.7h0M246.1 467.5h0M249.6 467.2h0M240.8 472.5h0M239.9 476.4h0M209.9 476.0h0M206.4 479.0h0M218.7 476.4h0M221.3 477.2h0M213.4 479.9h0M216.0 480.8h0M224.9 477.8h0M230.2 474.9h0M245.2 480.8h0M235.1 481.6h0M203.7 483.4h0M241.6 484.3h0M186.6 498.9h0M185.4 500.1h0M191.4 530.7h0M200.2 526.0h0M200.8 528.9h0M220.2 510.1h0M227.2 498.4h0M228.4 500.7h0M223.7 496.0h0M228.4 491.3h0M206.6 477.2h0M210.2 476.6h0M220.2 476.6h0M224.3 477.8h0M239.6 476.5h0M245.1 480.9h0M242.6 484.7h0M234.7 482.5h0M235.8 485.6h0M238.9 486.7h0M229.3 490.7h0M232.3 490.4h0M223.8 496.2h0M227.1 498.4h0M228.7 501.3h0M234.2 498.4h0M237.8 497.3h0M220.5 510.4h0M218.4 496.2h0M222.7 491.3h0M196.6 518.1h0M202.3 506.6h0M219.7 499.5h0M197.4 500.6h0M204.3 501.8h0M214.0 492.1h0M216.2 503.6h0M202.9 508.7h0M199.9 508.9h0M192.1 503.5h0M206.8 500.0h0M197.9 521.6h0M214.2 488.4h0M192.0 497.8h0M203.2 504.9h0M198.9 521.1h0M191.5 510.2h0M197.9 517.2h0M214.0 507.7h0M203.3 499.8h0M213.6 507.5h0M195.9 509.9h0M202.5 503.4h0M196.3 521.4h0M208.4 495.1h0M215.3 492.9h0M220.9 482.3h0M194.3 492.4h0M203.5 504.8h0M194.2 500.5h0M201.8 511.1h0M190.5 521.9h0M208.2 507.4h0M196.3 498.0h0M198.4 503.6h0M198.4 503.9h0M217.7 486.0h0M206.0 514.0h0M214.1 502.2h0M193.6 512.6h0M208.0 514.6h0M212.6 495.7h0M187.2 511.0h0M198.1 516.5h0M191.2 500.6h0M201.6 513.8h0M213.3 492.9h0M191.5 519.4h0M196.9 498.1h0M204.6 495.6h0M204.2 514.8h0M203.6 505.6h0M208.6 502.0h0M198.4 518.9h0M209.7 493.7h0M206.3 500.5h0M197.8 510.4h0M218.4 498.2h0M196.9 507.9h0M191.8 512.7h0M191.4 499.5h0M190.3 519.6h0M206.2 497.3h0M204.7 513.4h0M191.3 518.9h0M203.5 500.4h0M189.0 512.7h0M208.8 503.4h0M215.8 494.9h0M194.7 514.4h0M201.1 513.9h0M200.9 513.4h0M212.2 485.6h0M200.5 519.2h0M197.0 515.5h0M184.4 524.8h0M201.6 521.2h0M195.8 519.2h0M214.0 497.4h0M213.3 496.7h0M188.7 504.0h0M218.9 487.3h0M217.2 503.4h0M217.2 487.1h0M200.0 499.1h0M211.3 504.9h0M192.6 519.0h0M196.7 494.7h0M186.3 518.8h0M195.8 514.1h0M201.3 494.1h0M197.0 515.2h0M198.3 517.0h0M199.0 511.9h0M213.4 507.3h0M187.4 513.7h0M209.7 501.5h0M197.2 519.3h0M192.0 506.7h0M199.7 498.5h0M192.8 517.7h0M207.6 489.3h0M201.8 512.3h0M199.0 507.7h0M190.5 509.6h0M198.5 515.0h0M199.6 521.6h0M203.8 495.5h0M197.9 518.2h0M206.4 509.1h0M203.2 501.8h0M204.0 506.3h0M207.4 514.0h0M196.8 517.8h0M197.8 516.5h0M202.8 495.3h0M197.3 513.5h0M207.4 490.7h0M213.9 506.6h0M220.2 493.0h0M194.8 509.0h0M206.3 512.9h0M209.1 493.7h0M191.0 513.6h0M218.3 502.6h0M216.6 497.2h0M203.4 497.7h0M194.1 519.1h0M188.8 511.9h0M198.2 519.8h0M205.2 507.5h0M211.2 513.0h0M196.2 510.7h0M215.8 499.4h0M201.3 513.6h0M209.7 486.2h0M183.4 518.0h0M206.9 493.4h0M203.9 507.7h0M201.2 493.0h0M205.5 507.8h0M214.5 497.3h0M210.0 505.6h0M190.3 498.1h0M207.8 509.0h0M201.0 496.7h0M185.2 513.7h0M214.7 506.0h0M212.6 503.5h0M216.8 489.3h0M209.8 511.9h0M218.0 503.0h0M209.9 505.9h0M209.1 509.5h0M210.8 496.5h0M204.2 516.1h0M197.8 503.1h0M192.2 519.7h0M195.7 513.9h0M199.5 512.3h0M212.0 493.7h0M210.8 508.3h0M207.4 505.8h0M196.4 520.7h0M197.3 506.2h0M196.9 500.3h0M207.8 506.3h0M187.8 514.2h0M194.3 513.6h0M191.5 506.2h0M208.6 505.8h0M208.4 483.8h0M201.6 516.8h0M196.6 500.4h0M196.3 495.2h0M203.0 504.4h0M199.7 507.3h0M213.2 504.5h0M213.4 503.8h0M199.4 503.3h0M204.4 497.2h0M216.0 490.1h0M205.8 508.1h0M199.3 495.7h0M220.5 487.0h0M189.2 522.4h0M192.5 506.4h0M186.8 510.6h0M204.2 503.3h0M202.8 498.7h0M193.5 494.4h0M209.1 502.9h0M214.7 503.3h0M200.7 498.5h0M206.6 489.7h0M212.2 481.2h0M208.4 510.9h0M202.2 508.6h0M197.5 514.1h0M199.7 519.5h0M194.8 502.5h0M197.9 513.4h0M213.6 499.1h0M209.6 502.4h0M194.7 497.1h0M212.0 490.1h0M203.9 506.1h0M189.2 512.4h0M194.3 514.7h0M203.7 506.8h0M213.8 488.0h0M203.3 515.8h0M203.7 492.4h0M204.0 518.1h0M202.1 508.7h0M211.4 510.2h0M200.0 494.1h0M199.5 505.9h0M194.9 510.1h0M193.2 497.8h0M198.8 512.4h0M208.0 515.1h0M194.7 504.4h0M205.8 487.5h0M200.0 501.9h0M203.8 498.9h0M201.2 511.3h0M220.1 481.5h0M198.3 497.6h0M218.0 493.3h0M192.4 524.2h0M198.4 513.7h0M216.7 482.2h0M218.1 491.3h0M220.6 486.0h0M191.8 506.8h0M194.6 511.3h0M207.2 505.4h0M219.0 491.6h0M208.5 513.4h0M209.8 495.2h0M192.5 521.4h0M217.9 494.7h0M200.3 500.1h0M193.8 503.2h0M187.6 511.1h0M203.4 512.8h0M186.8 515.2h0M203.7 512.0h0M185.1 514.0h0M213.0 509.5h0M209.4 509.9h0M206.3 503.2h0M185.8 517.9h0M219.6 488.6h0M202.1 510.3h0M193.7 517.7h0M194.4 498.7h0M202.7 520.0h0M187.8 511.0h0M198.2 502.2h0M190.8 522.6h0M190.2 511.6h0M207.8 490.9h0M193.2 509.3h0M187.9 520.8h0M206.8 507.0h0M197.7 512.1h0M204.4 502.2h0M194.0 519.0h0M183.7 521.5h0M198.2 520.4h0M209.5 507.5h0M192.7 499.2h0M183.8 524.7h0M208.1 500.2h0M196.7 520.3h0M188.3 506.6h0M189.9 520.6h0M196.9 515.1h0M185.2 520.8h0M200.4 505.8h0M199.2 513.3h0M197.6 497.5h0M188.8 502.0h0M215.7 498.2h0M198.6 519.6h0M203.9 514.0h0M197.3 500.5h0M190.0 507.7h0M190.4 509.8h0M189.4 519.7h0M187.2 525.8h0M218.1 494.1h0M218.7 498.8h0M204.5 510.3h0M200.7 500.9h0M189.7 512.9h0M194.2 507.7h0M205.7 498.4h0M191.6 521.0h0M204.7 495.7h0M203.3 514.7h0M214.2 495.9h0M195.9 495.0h0M200.4 493.2h0M205.0 509.3h0M209.2 496.1h0M199.6 500.6h0M219.2 502.8h0M196.3 519.4h0M195.3 518.8h0M211.8 485.7h0M187.4 515.0h0M189.7 516.1h0M213.9 491.3h0M186.2 513.1h0M188.1 509.2h0M207.2 494.6h0M201.5 512.1h0M195.9 502.1h0M194.9 499.0h0M212.6 508.2h0M204.8 507.5h0M190.7 509.0h0M193.0 508.4h0M186.7 519.1h0M194.6 522.7h0M215.1 488.3h0M204.7 503.5h0M201.8 501.7h0M208.6 501.5h0M191.3 505.7h0M198.7 519.0h0M211.3 487.8h0M192.7 511.7h0M200.3 510.2h0M207.1 508.1h0M197.4 520.2h0M219.6 485.3h0M201.1 503.9h0M200.5 503.0h0M211.5 509.2h0M187.4 508.7h0M204.0 505.5h0M194.5 508.8h0M216.7 503.8h0M192.4 518.3h0M189.8 501.4h0M193.2 519.6h0M195.3 503.8h0M207.3 497.9h0M201.4 490.2h0M186.6 518.6h0M211.2 510.5h0M191.0 514.5h0M183.9 519.4h0M198.9 512.2h0M192.0 508.5h0M204.2 508.7h0M202.3 517.3h0M201.7 508.3h0M194.1 512.2h0M201.0 516.5h0M205.3 509.0h0M193.0 513.5h0M204.2 514.8h0M204.8 501.0h0M205.7 500.0h0M194.6 515.8h0M219.4 487.3h0M201.1 519.9h0M189.8 507.5h0M197.4 503.6h0M207.0 488.0h0M211.9 493.0h0M220.5 490.1h0M187.7 524.3h0M197.1 504.2h0M187.5 520.3h0M204.4 511.8h0M201.4 517.0h0M201.0 505.0h0M194.5 514.8h0M192.0 509.1h0M203.2 515.9h0M211.6 494.9h0M191.7 516.2h0M202.2 493.4h0M210.9 493.5h0M213.3 486.0h0M204.1 512.7h0M208.1 485.9h0M194.1 518.4h0M202.6 501.7h0M193.7 503.0h0M195.0 511.9h0M200.0 514.9h0M205.4 494.2h0M196.4 508.0h0M198.4 514.6h0M211.6 498.3h0M198.2 491.4h0M212.3 494.4h0M194.3 503.1h0M215.1 500.5h0M219.5 499.5h0M206.0 505.4h0M206.1 496.7h0M193.1 510.7h0M209.9 490.3h0M205.9 505.9h0M192.9 500.2h0M191.6 500.2h0M192.8 517.2h0M204.2 497.6h0M211.5 504.5h0M198.5 495.7h0M190.6 522.2h0M216.7 486.0h0M203.5 498.8h0M188.8 508.8h0M192.0 510.5h0M212.4 482.9h0M185.8 518.4h0M195.3 495.0h0M188.5 510.0h0M200.5 496.5h0M187.1 505.5h0M203.3 513.3h0M211.9 498.7h0M205.8 507.1h0M201.1 518.4h0M189.4 511.6h0M198.6 503.5h0M193.1 500.5h0M218.6 487.1h0M196.0 499.2h0M196.2 519.6h0M207.0 503.1h0M204.0 496.2h0M198.2 509.7h0M212.3 504.0h0M197.3 520.9h0M200.5 512.3h0M203.8 506.4h0M187.1 510.2h0M190.6 514.3h0M183.4 521.1h0M212.3 490.4h0M206.8 509.0h0M206.6 505.2h0M206.2 512.1h0M200.7 498.0h0M207.0 485.4h0M199.1 495.5h0M203.2 502.0h0M194.7 521.0h0M200.0 505.2h0M209.3 511.7h0M202.1 510.4h0M203.7 505.8h0M202.3 515.9h0M191.2 523.0h0M208.8 507.0h0M216.8 495.8h0M186.7 512.7h0M191.2 506.2h0M192.7 509.3h0M216.0 484.1h0M193.8 509.1h0" stroke="#000" stroke-width="3.3" stroke-linecap="round" fill="none"/><line x1="-19.10" y1="706.80" x2="535.90" y2="202.80" stroke="#FF0000" stroke-width="0.99"/></g>
</g>
<g>
<rect x="256.74" y="434.86" width="73.76" height="100.64" fill="#EBEBEB"/>
<line x1="268.05" y1="434.86" x2="268.05" y2="535.5" stroke="#fff" stroke-width="0.49"/>
<line x1="292.35" y1="434.86" x2="292.35" y2="535.5" stroke="#fff" stroke-width="0.49"/>
<line x1="316.65" y1="434.86" x2="316.65" y2="535.5" stroke="#fff" stroke-width="0.49"/>
<line x1="256.74" y1="454.8" x2="330.5" y2="454.8" stroke="#fff" stroke-width="0.49"/>
<line x1="256.74" y1="488.4" x2="330.5" y2="488.4" stroke="#fff" stroke-width="0.49"/>
<line x1="256.74" y1="522" x2="330.5" y2="522" stroke="#fff" stroke-width="0.49"/>
<line x1="280.2" y1="434.86" x2="280.2" y2="535.5" stroke="#fff" stroke-width="0.99"/>
<line x1="304.5" y1="434.86" x2="304.5" y2="535.5" stroke="#fff" stroke-width="0.99"/>
<line x1="328.8" y1="434.86" x2="328.8" y2="535.5" stroke="#fff" stroke-width="0.99"/>
<line x1="256.74" y1="438" x2="330.5" y2="438" stroke="#fff" stroke-width="0.99"/>
<line x1="256.74" y1="471.6" x2="330.5" y2="471.6" stroke="#fff" stroke-width="0.99"/>
<line x1="256.74" y1="505.2" x2="330.5" y2="505.2" stroke="#fff" stroke-width="0.99"/>
<clipPath id="c43"><rect x="256.74" y="434.86" width="73.76" height="100.64"/></clipPath><g clip-path="url(#c43)"><path d="M285.1 439.3h0M287.4 441.9h0M281.6 447.2h0M283.4 451.6h0M288.1 453.1h0M289.5 458.7h0M269.8 461.4h0M276.8 461.9h0M278.1 464.0h0M285.1 462.2h0M282.5 466.1h0M285.6 467.2h0M281.6 468.4h0M283.9 470.2h0M290.4 467.2h0M292.2 469.3h0M296.2 468.1h0M299.2 470.7h0M272.2 471.9h0M280.7 471.9h0M291.3 472.8h0M293.9 473.7h0M292.2 475.5h0M320.4 468.4h0M327.1 467.2h0M278.6 476.0h0M276.3 479.0h0M284.2 477.2h0M282.5 479.0h0M298.4 476.4h0M300.1 477.2h0M290.4 480.2h0M288.6 481.6h0M300.1 481.3h0M295.7 482.5h0M278.9 482.5h0M281.6 483.4h0M310.7 484.3h0M265.4 494.8h0M273.6 487.2h0M260.9 512.5h0M260.1 522.5h0M276.6 526.0h0M268.9 530.7h0M280.1 523.1h0M299.5 516.6h0M300.1 510.7h0M297.2 501.3h0M300.7 500.1h0M304.2 501.3h0M301.9 504.8h0M303.6 507.2h0M305.4 510.1h0M297.8 493.6h0M296.6 486.6h0M300.1 480.7h0M291.3 480.7h0M299.1 476.5h0M300.2 480.9h0M296.4 486.4h0M310.8 484.7h0M319.8 490.2h0M295.3 490.2h0M297.2 493.2h0M293.6 496.2h0M297.5 500.0h0M300.2 499.4h0M304.5 501.3h0M309.4 502.0h0M324.5 503.0h0M302.4 504.9h0M304.0 507.1h0M310.5 508.5h0M306.2 510.4h0M308.9 513.3h0M299.6 508.7h0M300.7 511.4h0M299.6 516.9h0M281.4 506.9h0M271.8 524.9h0M290.4 507.7h0M273.5 521.2h0M272.9 513.8h0M283.8 502.2h0M269.0 525.0h0M286.3 495.7h0M277.8 508.3h0M276.6 484.1h0M288.4 494.7h0M278.1 488.1h0M289.1 510.6h0M278.6 510.7h0M290.1 505.9h0M271.1 510.3h0M277.5 491.9h0M277.8 491.8h0M276.9 480.7h0M273.8 515.9h0M288.5 503.9h0M289.6 497.0h0M285.9 509.8h0M273.4 514.6h0M274.1 513.0h0M280.3 494.3h0M270.0 505.9h0M284.9 486.0h0M276.8 509.4h0M271.3 509.2h0M285.5 511.6h0M278.6 486.1h0M279.9 505.3h0M286.9 509.7h0M290.3 507.3h0M271.6 504.6h0M271.9 521.5h0M271.0 511.8h0M268.7 520.7h0M277.9 513.1h0M288.0 502.9h0M282.0 491.9h0M272.7 505.9h0M270.4 509.3h0M289.1 508.4h0M271.0 519.6h0M281.4 511.8h0M271.1 515.5h0M289.8 495.8h0M281.3 510.8h0M277.8 497.8h0M280.5 511.5h0M284.4 510.5h0M268.6 519.6h0M282.2 500.8h0M280.2 486.9h0M265.7 525.3h0M269.9 506.6h0M289.5 490.5h0M291.1 495.4h0M279.0 491.5h0M277.8 510.1h0M289.9 508.4h0M273.2 502.6h0M287.7 505.3h0M281.9 495.5h0M280.8 503.1h0M274.6 514.7h0M277.9 518.8h0M286.7 513.5h0M277.6 512.9h0M285.9 504.4h0M277.5 490.2h0M270.5 507.2h0M283.7 509.3h0M273.9 510.8h0M283.6 516.1h0M288.7 512.6h0M276.7 512.1h0M279.5 514.2h0M281.4 496.9h0M278.0 511.0h0M290.5 487.6h0M280.7 518.4h0M284.7 488.5h0M267.7 513.4h0M272.4 510.5h0M292.0 505.4h0M276.0 515.8h0M273.4 514.9h0M281.8 480.3h0M274.8 512.8h0M270.8 502.1h0M294.7 493.1h0M286.9 488.9h0M287.3 515.3h0M271.3 504.4h0M275.6 505.9h0M276.2 513.0h0M268.2 523.0h0M270.4 503.5h0M285.8 507.9h0M285.3 488.2h0M284.7 510.3h0M273.8 499.5h0M275.4 512.9h0M281.1 514.4h0M270.4 508.9h0M283.0 485.2h0M281.3 510.0h0M274.0 502.9h0M288.0 494.9h0M284.3 490.0h0M269.2 522.3h0M275.8 501.4h0M274.7 520.2h0M290.3 485.8h0M288.6 508.0h0M281.3 514.8h0M287.4 509.7h0M275.5 504.8h0M269.2 506.2h0M276.4 503.9h0M292.2 501.5h0M278.0 493.7h0M269.0 516.6h0M270.5 512.2h0M271.0 519.6h0M273.7 521.6h0M281.8 494.1h0M274.6 494.8h0M268.7 506.4h0M276.9 520.2h0M284.5 491.9h0M282.2 502.8h0M282.7 515.2h0M291.0 504.7h0M272.6 519.5h0M285.9 499.0h0M273.1 510.8h0M272.0 501.2h0M281.5 501.8h0M289.3 510.3h0M273.5 511.5h0M272.0 519.2h0M277.3 486.3h0M291.3 506.8h0M271.6 512.2h0M272.7 504.4h0M272.2 509.1h0M273.6 506.3h0M271.2 504.1h0M293.5 490.2h0M283.0 501.6h0M275.0 519.2h0M266.4 514.4h0M272.4 518.0h0M274.0 488.6h0M267.1 515.9h0M272.5 513.0h0M286.8 486.2h0M283.5 481.9h0M279.2 487.2h0M270.2 519.1h0M280.0 498.5h0M275.2 520.6h0M279.4 510.0h0M286.0 511.9h0M286.2 491.9h0M278.7 486.7h0M283.8 512.4h0M285.3 491.3h0M286.1 514.7h0M276.1 502.7h0M280.6 518.3h0M274.9 523.1h0M284.0 497.5h0M291.3 487.7h0M271.6 503.2h0M276.1 517.4h0M282.1 499.9h0M290.3 503.3h0M279.0 516.9h0M289.2 490.3h0M275.0 518.3h0M278.9 517.2h0M270.5 497.6h0M274.3 503.9h0M282.1 511.6h0M282.2 483.7h0M277.9 509.3h0M284.5 499.9h0M278.8 480.4h0M288.0 493.1h0M272.6 507.4h0M269.0 517.7h0M292.7 497.8h0M289.7 505.7h0M277.7 481.6h0M274.5 512.9h0M269.5 505.0h0M277.0 490.8h0M267.5 523.5h0M265.5 519.1h0M280.0 501.4h0M278.8 510.9h0M290.6 500.3h0M268.6 523.4h0M272.1 517.5h0M276.0 509.9h0M284.8 487.5h0M275.5 496.7h0M293.2 506.7h0M270.4 501.5h0M272.3 520.3h0M290.3 495.6h0M272.0 517.8h0M271.0 526.7h0M265.2 524.1h0M270.6 513.3h0M274.1 504.4h0M268.6 523.0h0M272.5 508.5h0M292.9 490.2h0M283.0 514.5h0M280.9 509.9h0M283.4 499.8h0M271.8 498.1h0M282.9 510.8h0M274.2 520.3h0M284.0 501.7h0M288.1 501.1h0M276.5 515.7h0M288.9 505.6h0M278.6 495.1h0M277.3 484.6h0M276.5 515.5h0M288.2 486.6h0M285.5 486.8h0M274.3 503.4h0M278.7 483.9h0M276.2 517.9h0M288.5 506.1h0M286.1 500.2h0M267.9 519.6h0M285.4 516.0h0M271.1 511.7h0M266.4 522.6h0M287.4 485.2h0M291.8 506.3h0M284.8 496.1h0M281.6 487.8h0M270.3 506.4h0M288.7 503.4h0M280.6 517.1h0M288.3 506.7h0M278.4 505.9h0M279.8 501.7h0M287.6 488.9h0M273.7 509.3h0M274.3 496.2h0M272.1 497.8h0M276.0 509.0h0M269.4 509.2h0M283.8 515.7h0M281.4 482.8h0M289.6 513.4h0M279.7 506.4h0M282.7 519.8h0M267.8 510.4h0M271.1 514.3h0M274.2 489.7h0M281.7 519.0h0M277.9 505.2h0M274.3 520.0h0M267.0 519.2h0M274.7 512.9h0M288.0 488.3h0M283.1 488.9h0M274.1 498.7h0M286.6 494.7h0M267.0 519.7h0M277.2 500.0h0M285.1 505.1h0M284.8 514.6h0M282.5 498.9h0M291.2 484.9h0M270.5 512.8h0M292.5 511.4h0M276.8 512.6h0M270.1 510.8h0M268.9 517.3h0M284.8 512.5h0M268.8 516.3h0M267.7 527.3h0M288.8 511.8h0M271.5 506.9h0M283.3 516.5h0M280.4 501.3h0M281.4 497.2h0M278.1 510.2h0M290.8 507.9h0M281.5 506.6h0M282.7 487.1h0M293.1 504.9h0M270.9 507.5h0M271.5 505.9h0M290.8 486.9h0M284.8 512.9h0M282.5 505.5h0M282.6 494.2h0M272.3 504.1h0M284.9 493.9h0M270.6 500.6h0M274.9 507.5h0M274.3 497.6h0M267.3 507.3h0M276.1 492.9h0M279.9 499.5h0M291.9 510.3h0M294.1 503.7h0M285.0 515.4h0M282.9 493.9h0M276.7 483.9h0M288.7 498.2h0M283.3 502.0h0M283.4 506.7h0M276.3 508.4h0M272.0 498.3h0M280.0 483.6h0M273.7 521.7h0M288.7 516.1h0M291.6 501.6h0M278.9 513.2h0M279.9 492.0h0M279.0 504.5h0M278.1 494.9h0M286.4 516.2h0M288.2 503.0h0M288.1 508.5h0M275.9 518.0h0M285.0 507.9h0M279.0 515.3h0M287.8 488.2h0M286.2 509.8h0M285.1 483.8h0M278.3 485.4h0M280.2 491.4h0M278.2 501.1h0M281.2 495.1h0M269.1 508.5h0M291.5 498.8h0M270.8 515.3h0M276.6 518.4h0M276.9 510.9h0M271.5 523.7h0M267.4 517.6h0M282.3 496.8h0M272.8 507.0h0M273.0 516.7h0M279.5 519.7h0M275.7 510.9h0M290.0 511.4h0M273.1 519.0h0M288.0 495.8h0M286.2 504.7h0M289.1 508.9h0M283.3 513.9h0M290.4 492.9h0M266.2 519.8h0M270.5 503.2h0M283.1 488.3h0M270.0 509.0h0M280.0 515.6h0M281.7 484.1h0M284.4 515.8h0M269.4 523.5h0M275.5 522.2h0M282.7 488.2h0M278.7 483.5h0M269.5 513.3h0M271.4 507.3h0M282.8 510.6h0M278.0 504.0h0M270.3 520.0h0M269.1 509.9h0M281.0 516.7h0M279.2 498.1h0M280.7 520.9h0M266.7 518.1h0M283.3 517.8h0M290.6 506.2h0M287.7 488.4h0M285.3 482.3h0M271.3 519.2h0M276.9 513.7h0M289.7 490.1h0M277.3 509.0h0M274.1 494.5h0M287.5 514.2h0M289.5 509.3h0M270.9 521.7h0M268.6 523.0h0M276.1 514.3h0M271.5 506.9h0M273.9 496.6h0M280.1 512.5h0M271.6 498.0h0M288.5 492.7h0M268.4 520.2h0M290.9 484.0h0M289.1 494.7h0M291.2 497.4h0M277.7 484.7h0M268.1 528.1h0M265.7 526.4h0M290.6 496.5h0M270.0 504.2h0M275.9 512.6h0M290.1 488.9h0M281.6 507.4h0M278.6 478.8h0M270.2 505.7h0M287.9 498.6h0M273.7 504.5h0M268.6 524.0h0M277.2 506.4h0M278.4 503.1h0M278.2 508.8h0M287.0 505.2h0M272.0 515.5h0M271.8 522.4h0M282.4 511.6h0M276.1 518.8h0M275.8 494.4h0M281.4 500.3h0M283.7 519.2h0M285.5 496.5h0M292.4 508.6h0M273.8 505.4h0M274.5 502.8h0M276.1 513.4h0M279.3 513.8h0M280.8 513.4h0M289.3 510.4h0M277.2 518.8h0M281.1 485.2h0M274.3 511.9h0M270.5 514.4h0M281.2 495.8h0M294.7 499.8h0M281.2 508.4h0M291.4 508.2h0M279.6 501.4h0M288.1 497.0h0M281.7 493.5h0M275.1 507.2h0M275.1 504.9h0M276.0 506.7h0M284.3 492.2h0M284.6 502.8h0M281.4 516.8h0M267.9 506.2h0M277.0 514.2h0M280.9 495.8h0M290.0 485.6h0M274.6 513.6h0M281.4 504.5h0M278.8 511.0h0M285.9 488.7h0M274.1 515.4h0M287.3 506.8h0M274.5 507.2h0M292.5 492.5h0M287.3 503.2h0M282.7 493.7h0M278.0 496.4h0M267.1 521.6h0M278.2 514.6h0M272.1 524.5h0M284.9 512.7h0M267.8 503.9h0M277.3 500.5h0M284.1 513.9h0M279.9 504.6h0M293.4 506.4h0M271.0 517.3h0M271.5 523.5h0M281.2 494.6h0M286.7 505.7h0M281.4 507.5h0M284.3 510.8h0M275.2 514.2h0M269.5 502.3h0M279.3 491.1h0M287.0 502.9h0M287.3 506.1h0M271.6 508.8h0M277.3 488.4h0M283.3 501.3h0M287.6 500.1h0M286.1 498.7h0M287.6 500.3h0M276.8 501.8h0M277.4 496.5h0M292.1 507.5h0M290.4 493.1h0M284.3 514.6h0M282.9 511.8h0M271.9 511.7h0M271.6 503.5h0M286.6 485.4h0M273.9 499.5h0" stroke="#000" stroke-width="3.3" stroke-linecap="round" fill="none"/><line x1="134.40" y1="706.80" x2="498.90" y2="202.80" stroke="#FF0000" stroke-width="0.99"/></g>
</g>
<g>
<rect x="334.32" y="434.86" width="73.76" height="100.64" fill="#EBEBEB"/>
<line x1="345.3" y1="434.86" x2="345.3" y2="535.5" stroke="#fff" stroke-width="0.49"/>
<line x1="369.5" y1="434.86" x2="369.5" y2="535.5" stroke="#fff" stroke-width="0.49"/>
<line x1="393.7" y1="434.86" x2="393.7" y2="535.5" stroke="#fff" stroke-width="0.49"/>
<line x1="334.32" y1="452.4" x2="408.08" y2="452.4" stroke="#fff" stroke-width="0.49"/>
<line x1="334.32" y1="483.84" x2="408.08" y2="483.84" stroke="#fff" stroke-width="0.49"/>
<line x1="334.32" y1="515.28" x2="408.08" y2="515.28" stroke="#fff" stroke-width="0.49"/>
<line x1="357.4" y1="434.86" x2="357.4" y2="535.5" stroke="#fff" stroke-width="0.99"/>
<line x1="381.6" y1="434.86" x2="381.6" y2="535.5" stroke="#fff" stroke-width="0.99"/>
<line x1="405.8" y1="434.86" x2="405.8" y2="535.5" stroke="#fff" stroke-width="0.99"/>
<line x1="334.32" y1="531" x2="408.08" y2="531" stroke="#fff" stroke-width="0.99"/>
<line x1="334.32" y1="499.56" x2="408.08" y2="499.56" stroke="#fff" stroke-width="0.99"/>
<line x1="334.32" y1="468.12" x2="408.08" y2="468.12" stroke="#fff" stroke-width="0.99"/>
<line x1="334.32" y1="436.68" x2="408.08" y2="436.68" stroke="#fff" stroke-width="0.99"/>
<!--CONTENT_4_4-->
<path d="M337.30,531.00 L337.30,530.30 C337.35,529.87 337.23,528.73 337.60,527.70 C337.97,526.67 338.88,525.77 339.50,524.10 C340.12,522.43 340.70,520.43 341.30,517.70 C341.90,514.97 342.50,511.78 343.10,507.70 C343.70,503.62 344.30,498.65 344.90,493.20 C345.50,487.75 346.10,481.07 346.70,475.00 C347.30,468.93 347.88,461.95 348.50,456.80 C349.12,451.65 349.78,446.98 350.40,444.10 C351.02,441.22 351.60,440.10 352.20,439.50 C352.80,438.90 353.40,439.58 354.00,440.50 C354.60,441.42 355.20,442.88 355.80,445.00 C356.40,447.12 356.98,450.32 357.60,453.20 C358.22,456.08 358.88,459.27 359.50,462.30 C360.12,465.33 360.70,468.37 361.30,471.40 C361.90,474.43 362.50,477.48 363.10,480.50 C363.70,483.52 364.30,486.78 364.90,489.50 C365.50,492.22 366.10,494.75 366.70,496.80 C367.30,498.85 367.97,500.17 368.50,501.80 C369.03,503.43 369.33,505.00 369.90,506.60 C370.47,508.20 371.25,509.95 371.90,511.40 C372.55,512.85 373.08,513.93 373.80,515.30 C374.52,516.67 375.40,518.52 376.20,519.60 C377.00,520.68 377.80,521.35 378.60,521.80 C379.40,522.25 380.20,522.07 381.00,522.30 C381.80,522.53 382.52,522.68 383.40,523.20 C384.28,523.72 385.33,524.63 386.30,525.40 C387.27,526.17 388.32,527.17 389.20,527.80 C390.08,528.43 390.63,528.88 391.60,529.20 C392.57,529.52 393.78,529.58 395.00,529.70 C396.22,529.82 397.37,529.82 398.90,529.90 C400.43,529.98 403.32,530.15 404.20,530.20 L404.20,531.00 Z" fill="none" stroke="#000" stroke-width="0.99" stroke-linejoin="round"/>
</g>
<line x1="38.8" y1="535.5" x2="38.8" y2="537.41" stroke="#333333" stroke-width="0.99"/>
<text transform="translate(38.80,543.80) scale(0.1)" class="ax" text-anchor="middle">3e–04</text>
<line x1="57.55" y1="535.5" x2="57.55" y2="537.41" stroke="#333333" stroke-width="0.99"/>
<text transform="translate(57.55,543.80) scale(0.1)" class="ax" text-anchor="middle">5e–04</text>
<line x1="76.3" y1="535.5" x2="76.3" y2="537.41" stroke="#333333" stroke-width="0.99"/>
<text transform="translate(76.30,543.80) scale(0.1)" class="ax" text-anchor="middle">8e–04</text>
<line x1="95.05" y1="535.5" x2="95.05" y2="537.41" stroke="#333333" stroke-width="0.99"/>
<text transform="translate(95.05,543.80) scale(0.1)" class="ax" text-anchor="middle">0.001</text>
<line x1="116.4" y1="535.5" x2="116.4" y2="537.41" stroke="#333333" stroke-width="0.99"/>
<text transform="translate(116.40,543.80) scale(0.1)" class="ax" text-anchor="middle">2e–04</text>
<line x1="136" y1="535.5" x2="136" y2="537.41" stroke="#333333" stroke-width="0.99"/>
<text transform="translate(136.00,543.80) scale(0.1)" class="ax" text-anchor="middle">4e–04</text>
<line x1="155.55" y1="535.5" x2="155.55" y2="537.41" stroke="#333333" stroke-width="0.99"/>
<text transform="translate(155.55,543.80) scale(0.1)" class="ax" text-anchor="middle">6e–04</text>
<line x1="184.4" y1="535.5" x2="184.4" y2="537.41" stroke="#333333" stroke-width="0.99"/>
<text transform="translate(184.40,543.80) scale(0.1)" class="ax" text-anchor="middle">1e–04</text>
<line x1="202.9" y1="535.5" x2="202.9" y2="537.41" stroke="#333333" stroke-width="0.99"/>
<text transform="translate(202.90,543.80) scale(0.1)" class="ax" text-anchor="middle">2e–04</text>
<line x1="221.3" y1="535.5" x2="221.3" y2="537.41" stroke="#333333" stroke-width="0.99"/>
<text transform="translate(221.30,543.80) scale(0.1)" class="ax" text-anchor="middle">3e–04</text>
<line x1="239.9" y1="535.5" x2="239.9" y2="537.41" stroke="#333333" stroke-width="0.99"/>
<text transform="translate(239.90,543.80) scale(0.1)" class="ax" text-anchor="middle">4e–04</text>
<line x1="280.2" y1="535.5" x2="280.2" y2="537.41" stroke="#333333" stroke-width="0.99"/>
<text transform="translate(280.20,543.80) scale(0.1)" class="ax" text-anchor="middle">2e–04</text>
<line x1="304.5" y1="535.5" x2="304.5" y2="537.41" stroke="#333333" stroke-width="0.99"/>
<text transform="translate(304.50,543.80) scale(0.1)" class="ax" text-anchor="middle">4e–04</text>
<line x1="328.8" y1="535.5" x2="328.8" y2="537.41" stroke="#333333" stroke-width="0.99"/>
<text transform="translate(328.80,543.80) scale(0.1)" class="ax" text-anchor="middle">6e–04</text>
<line x1="357.4" y1="535.5" x2="357.4" y2="537.41" stroke="#333333" stroke-width="0.99"/>
<text transform="translate(357.40,543.80) scale(0.1)" class="ax" text-anchor="middle">2e–04</text>
<line x1="381.6" y1="535.5" x2="381.6" y2="537.41" stroke="#333333" stroke-width="0.99"/>
<text transform="translate(381.60,543.80) scale(0.1)" class="ax" text-anchor="middle">4e–04</text>
<line x1="405.8" y1="535.5" x2="405.8" y2="537.41" stroke="#333333" stroke-width="0.99"/>
<text transform="translate(405.80,543.80) scale(0.1)" class="ax" text-anchor="middle">6e–04</text>
<line x1="22.09" y1="112.8" x2="24" y2="112.8" stroke="#333333" stroke-width="0.99"/>
<text transform="translate(20.50,115.70) scale(0.1)" class="ax" text-anchor="end">0</text>
<line x1="22.09" y1="92.1" x2="24" y2="92.1" stroke="#333333" stroke-width="0.99"/>
<text transform="translate(20.50,95.00) scale(0.1)" class="ax" text-anchor="end">1000</text>
<line x1="22.09" y1="71.4" x2="24" y2="71.4" stroke="#333333" stroke-width="0.99"/>
<text transform="translate(20.50,74.30) scale(0.1)" class="ax" text-anchor="end">2000</text>
<line x1="22.09" y1="50.7" x2="24" y2="50.7" stroke="#333333" stroke-width="0.99"/>
<text transform="translate(20.50,53.60) scale(0.1)" class="ax" text-anchor="end">3000</text>
<line x1="22.09" y1="30" x2="24" y2="30" stroke="#333333" stroke-width="0.99"/>
<text transform="translate(20.50,32.90) scale(0.1)" class="ax" text-anchor="end">4000</text>
<line x1="22.09" y1="148.3" x2="24" y2="148.3" stroke="#333333" stroke-width="0.99"/>
<text transform="translate(20.50,151.20) scale(0.1)" class="ax" text-anchor="end">6e–04</text>
<line x1="22.09" y1="175" x2="24" y2="175" stroke="#333333" stroke-width="0.99"/>
<text transform="translate(20.50,177.90) scale(0.1)" class="ax" text-anchor="end">4e–04</text>
<line x1="22.09" y1="201.7" x2="24" y2="201.7" stroke="#333333" stroke-width="0.99"/>
<text transform="translate(20.50,204.60) scale(0.1)" class="ax" text-anchor="end">2e–04</text>
<line x1="22.09" y1="243.2" x2="24" y2="243.2" stroke="#333333" stroke-width="0.99"/>
<text transform="translate(20.50,246.10) scale(0.1)" class="ax" text-anchor="end">4e–04</text>
<line x1="22.09" y1="268.6" x2="24" y2="268.6" stroke="#333333" stroke-width="0.99"/>
<text transform="translate(20.50,271.50) scale(0.1)" class="ax" text-anchor="end">3e–04</text>
<line x1="22.09" y1="294" x2="24" y2="294" stroke="#333333" stroke-width="0.99"/>
<text transform="translate(20.50,296.90) scale(0.1)" class="ax" text-anchor="end">2e–04</text>
<line x1="22.09" y1="319.4" x2="24" y2="319.4" stroke="#333333" stroke-width="0.99"/>
<text transform="translate(20.50,322.30) scale(0.1)" class="ax" text-anchor="end">1e–04</text>
<line x1="22.09" y1="333" x2="24" y2="333" stroke="#333333" stroke-width="0.99"/>
<text transform="translate(20.50,335.90) scale(0.1)" class="ax" text-anchor="end">6e–04</text>
<line x1="22.09" y1="366.1" x2="24" y2="366.1" stroke="#333333" stroke-width="0.99"/>
<text transform="translate(20.50,369.00) scale(0.1)" class="ax" text-anchor="end">4e–04</text>
<line x1="22.09" y1="399.2" x2="24" y2="399.2" stroke="#333333" stroke-width="0.99"/>
<text transform="translate(20.50,402.10) scale(0.1)" class="ax" text-anchor="end">2e–04</text>
<line x1="22.09" y1="438" x2="24" y2="438" stroke="#333333" stroke-width="0.99"/>
<text transform="translate(20.50,440.90) scale(0.1)" class="ax" text-anchor="end">6e–04</text>
<line x1="22.09" y1="471.6" x2="24" y2="471.6" stroke="#333333" stroke-width="0.99"/>
<text transform="translate(20.50,474.50) scale(0.1)" class="ax" text-anchor="end">4e–04</text>
<line x1="22.09" y1="505.2" x2="24" y2="505.2" stroke="#333333" stroke-width="0.99"/>
<text transform="translate(20.50,508.10) scale(0.1)" class="ax" text-anchor="end">2e–04</text>
</svg>
</body></html>
